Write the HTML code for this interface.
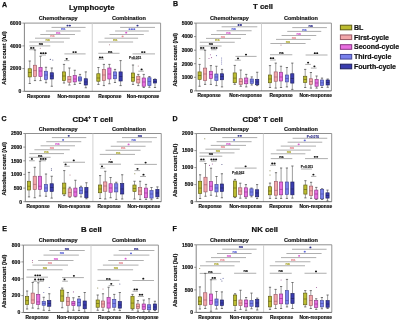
<!DOCTYPE html>
<html><head><meta charset="utf-8"><style>
html,body{margin:0;padding:0;background:#fff;}
svg{display:block;font-family:"Liberation Sans", sans-serif;will-change:transform;filter:blur(0.25px);}
</style></head><body>
<svg width="400" height="321" viewBox="0 0 400 321">
<rect width="400" height="321" fill="#fff"/>
<text x="1.9" y="6.75" font-size="7.0" text-anchor="start" fill="#111" font-weight="bold" stroke="#111" stroke-width="0.25">A</text>
<text x="91.7" y="9.7" font-size="7.8" text-anchor="middle" fill="#111" font-weight="bold" stroke="#111" stroke-width="0.22">Lymphocyte</text>
<text x="58.2" y="20.3" font-size="5.55" text-anchor="middle" fill="#111" font-weight="bold" stroke="#111" stroke-width="0.16">Chemotherapy</text>
<text x="128.9" y="20.3" font-size="5.55" text-anchor="middle" fill="#111" font-weight="bold" stroke="#111" stroke-width="0.16">Combination</text>
<line x1="24.4" y1="23.1" x2="160.6" y2="23.1" stroke="#858585" stroke-width="0.9"/>
<line x1="160.6" y1="23.1" x2="160.6" y2="91.3" stroke="#8a8a8a" stroke-width="0.9"/>
<line x1="92.25" y1="23.1" x2="92.25" y2="91.3" stroke="#ccc" stroke-width="0.9"/>
<line x1="24.4" y1="23.1" x2="24.4" y2="91.3" stroke="#777" stroke-width="0.9"/>
<line x1="24.4" y1="91.3" x2="160.6" y2="91.3" stroke="#555" stroke-width="0.9"/>
<line x1="22.4" y1="23.1" x2="24.4" y2="23.1" stroke="#666" stroke-width="0.7"/>
<text x="21.2" y="24.950000000000003" font-size="5.0" text-anchor="end" fill="#111" font-weight="bold" stroke="#111" stroke-width="0.18">6000</text>
<line x1="22.4" y1="45.9" x2="24.4" y2="45.9" stroke="#666" stroke-width="0.7"/>
<text x="21.2" y="47.75" font-size="5.0" text-anchor="end" fill="#111" font-weight="bold" stroke="#111" stroke-width="0.18">4000</text>
<line x1="22.4" y1="68.6" x2="24.4" y2="68.6" stroke="#666" stroke-width="0.7"/>
<text x="21.2" y="70.44999999999999" font-size="5.0" text-anchor="end" fill="#111" font-weight="bold" stroke="#111" stroke-width="0.18">2000</text>
<line x1="22.4" y1="91.3" x2="24.4" y2="91.3" stroke="#666" stroke-width="0.7"/>
<text x="21.2" y="93.14999999999999" font-size="5.0" text-anchor="end" fill="#111" font-weight="bold" stroke="#111" stroke-width="0.18">0</text>
<text x="5.9" y="58" font-size="5.7" text-anchor="middle" fill="#111" font-weight="bold" stroke="#111" stroke-width="0.15" transform="rotate(-90 5.9 58)">Absolute count (/ul)</text>
<text x="38.7" y="97.6" font-size="4.85" text-anchor="middle" fill="#111" font-weight="bold" stroke="#111" stroke-width="0.2">Response</text>
<text x="73.75" y="97.6" font-size="4.85" text-anchor="middle" fill="#111" font-weight="bold" stroke="#111" stroke-width="0.2">Non-response</text>
<text x="109.8" y="97.6" font-size="4.85" text-anchor="middle" fill="#111" font-weight="bold" stroke="#111" stroke-width="0.2">Response</text>
<text x="143.0" y="97.6" font-size="4.85" text-anchor="middle" fill="#111" font-weight="bold" stroke="#111" stroke-width="0.2">Non-response</text>
<line x1="51.5" y1="27.4" x2="85.6" y2="27.4" stroke="#8c8c8c" stroke-width="0.7"/>
<ellipse cx="67.53" cy="25.60" rx="1.05" ry="0.9" fill="#2c2c88"/>
<ellipse cx="69.88" cy="25.60" rx="1.05" ry="0.9" fill="#2c2c88"/>
<line x1="45.9" y1="31" x2="80.6" y2="31" stroke="#8c8c8c" stroke-width="0.7"/>
<text x="63.1" y="30.23" font-size="3.8" text-anchor="middle" fill="#6068d8" font-weight="bold" stroke="#6068d8" stroke-width="0.18">ns</text>
<line x1="40.3" y1="34.5" x2="75" y2="34.5" stroke="#8c8c8c" stroke-width="0.7"/>
<text x="58.1" y="33.73" font-size="3.8" text-anchor="middle" fill="#d85cd0" font-weight="bold" stroke="#d85cd0" stroke-width="0.18">ns</text>
<line x1="35" y1="38.2" x2="69.8" y2="38.2" stroke="#8c8c8c" stroke-width="0.7"/>
<text x="52.4" y="37.43" font-size="3.8" text-anchor="middle" fill="#e8909a" font-weight="bold" stroke="#e8909a" stroke-width="0.18">ns</text>
<line x1="29.3" y1="42" x2="64" y2="42" stroke="#8c8c8c" stroke-width="0.7"/>
<text x="47.6" y="41.23" font-size="3.8" text-anchor="middle" fill="#b0ac38" font-weight="bold" stroke="#b0ac38" stroke-width="0.18">ns</text>
<line x1="29.3" y1="45.9" x2="50.3" y2="45.9" stroke="#8c8c8c" stroke-width="0.7"/>
<text x="40.9" y="45.13" font-size="3.8" text-anchor="middle" fill="#111" font-weight="bold" stroke="#111" stroke-width="0.18">ns</text>
<line x1="29.3" y1="49.7" x2="35" y2="49.7" stroke="#8c8c8c" stroke-width="0.7"/>
<ellipse cx="31.12" cy="47.90" rx="1.05" ry="0.9" fill="#111"/>
<ellipse cx="33.47" cy="47.90" rx="1.05" ry="0.9" fill="#111"/>
<line x1="40.5" y1="55" x2="46" y2="55" stroke="#8c8c8c" stroke-width="0.7"/>
<ellipse cx="40.95" cy="53.20" rx="1.05" ry="0.9" fill="#111"/>
<ellipse cx="43.30" cy="53.20" rx="1.05" ry="0.9" fill="#111"/>
<ellipse cx="45.65" cy="53.20" rx="1.05" ry="0.9" fill="#111"/>
<line x1="64.4" y1="53.9" x2="85.6" y2="53.9" stroke="#8c8c8c" stroke-width="0.7"/>
<ellipse cx="73.42" cy="52.10" rx="1.05" ry="0.9" fill="#111"/>
<ellipse cx="75.77" cy="52.10" rx="1.05" ry="0.9" fill="#111"/>
<line x1="64" y1="60.6" x2="69.4" y2="60.6" stroke="#8c8c8c" stroke-width="0.7"/>
<ellipse cx="66.70" cy="58.80" rx="1.05" ry="0.9" fill="#111"/>
<line x1="120.1" y1="27.4" x2="155" y2="27.4" stroke="#8c8c8c" stroke-width="0.7"/>
<ellipse cx="137.50" cy="25.60" rx="1.05" ry="0.9" fill="#2c2c88"/>
<line x1="115.1" y1="31" x2="148.8" y2="31" stroke="#8c8c8c" stroke-width="0.7"/>
<ellipse cx="129.55" cy="29.20" rx="1.05" ry="0.9" fill="#6068d8"/>
<ellipse cx="131.90" cy="29.20" rx="1.05" ry="0.9" fill="#6068d8"/>
<ellipse cx="134.25" cy="29.20" rx="1.05" ry="0.9" fill="#6068d8"/>
<line x1="109.5" y1="34.5" x2="143.8" y2="34.5" stroke="#8c8c8c" stroke-width="0.7"/>
<ellipse cx="126.20" cy="32.70" rx="1.05" ry="0.9" fill="#d85cd0"/>
<line x1="104.5" y1="38.2" x2="138.1" y2="38.2" stroke="#8c8c8c" stroke-width="0.7"/>
<ellipse cx="122.60" cy="36.40" rx="1.05" ry="0.9" fill="#e8909a"/>
<line x1="98.3" y1="42" x2="133.1" y2="42" stroke="#8c8c8c" stroke-width="0.7"/>
<text x="115.1" y="41.23" font-size="3.8" text-anchor="middle" fill="#b0ac38" font-weight="bold" stroke="#b0ac38" stroke-width="0.18">ns</text>
<line x1="98.3" y1="53.3" x2="119.5" y2="53.3" stroke="#8c8c8c" stroke-width="0.7"/>
<text x="110.1" y="52.53" font-size="3.8" text-anchor="middle" fill="#111" font-weight="bold" stroke="#111" stroke-width="0.18">ns</text>
<line x1="98.3" y1="59.2" x2="104" y2="59.2" stroke="#8c8c8c" stroke-width="0.7"/>
<ellipse cx="99.92" cy="57.40" rx="1.05" ry="0.9" fill="#111"/>
<ellipse cx="102.27" cy="57.40" rx="1.05" ry="0.9" fill="#111"/>
<line x1="132.5" y1="53.9" x2="155" y2="53.9" stroke="#8c8c8c" stroke-width="0.7"/>
<ellipse cx="142.12" cy="52.10" rx="1.05" ry="0.9" fill="#111"/>
<ellipse cx="144.47" cy="52.10" rx="1.05" ry="0.9" fill="#111"/>
<line x1="131.5" y1="59.2" x2="139" y2="59.2" stroke="#8c8c8c" stroke-width="0.7"/>
<text x="135.2" y="58.56" font-size="3.3" text-anchor="middle" fill="#111" font-weight="bold" stroke="#111" stroke-width="0.12">P=0.051</text>
<line x1="138.3" y1="71.2" x2="143.8" y2="71.2" stroke="#8c8c8c" stroke-width="0.7"/>
<ellipse cx="141.60" cy="69.40" rx="1.05" ry="0.9" fill="#111"/>
<line x1="29.75" y1="61" x2="29.75" y2="68.75" stroke="#747474" stroke-width="0.7"/>
<line x1="29.75" y1="76.9" x2="29.75" y2="83.5" stroke="#747474" stroke-width="0.7"/>
<line x1="28.65" y1="61" x2="30.85" y2="61" stroke="#555" stroke-width="0.8"/>
<line x1="28.65" y1="83.5" x2="30.85" y2="83.5" stroke="#555" stroke-width="0.8"/>
<rect x="28.15" y="68.75" width="3.2" height="8.150000000000006" fill="#bcbc30" stroke="#5e5c12" stroke-width="0.65"/>
<line x1="28.15" y1="72.5" x2="31.35" y2="72.5" stroke="#5e5c12" stroke-width="0.6"/>
<line x1="35" y1="50" x2="35" y2="65.25" stroke="#747474" stroke-width="0.7"/>
<line x1="35" y1="76.5" x2="35" y2="80.6" stroke="#747474" stroke-width="0.7"/>
<line x1="33.9" y1="50" x2="36.1" y2="50" stroke="#555" stroke-width="0.8"/>
<line x1="33.9" y1="80.6" x2="36.1" y2="80.6" stroke="#555" stroke-width="0.8"/>
<rect x="33.4" y="65.25" width="3.2" height="11.25" fill="#f2a6aa" stroke="#9a5a66" stroke-width="0.65"/>
<line x1="33.4" y1="70.6" x2="36.6" y2="70.6" stroke="#9a5a66" stroke-width="0.6"/>
<line x1="40.5" y1="56.25" x2="40.5" y2="67.5" stroke="#747474" stroke-width="0.7"/>
<line x1="40.5" y1="76.5" x2="40.5" y2="80.6" stroke="#747474" stroke-width="0.7"/>
<line x1="39.4" y1="56.25" x2="41.6" y2="56.25" stroke="#555" stroke-width="0.8"/>
<line x1="39.4" y1="80.6" x2="41.6" y2="80.6" stroke="#555" stroke-width="0.8"/>
<rect x="38.9" y="67.5" width="3.2" height="9.0" fill="#e86ee0" stroke="#8a3484" stroke-width="0.65"/>
<line x1="38.9" y1="71" x2="42.1" y2="71" stroke="#8a3484" stroke-width="0.6"/>
<line x1="46" y1="67.25" x2="46" y2="71.25" stroke="#747474" stroke-width="0.7"/>
<line x1="46" y1="79.4" x2="46" y2="82.75" stroke="#747474" stroke-width="0.7"/>
<line x1="44.9" y1="67.25" x2="47.1" y2="67.25" stroke="#555" stroke-width="0.8"/>
<line x1="44.9" y1="82.75" x2="47.1" y2="82.75" stroke="#555" stroke-width="0.8"/>
<rect x="44.4" y="71.25" width="3.2" height="8.150000000000006" fill="#7880ec" stroke="#44489a" stroke-width="0.65"/>
<line x1="44.4" y1="75" x2="47.6" y2="75" stroke="#44489a" stroke-width="0.6"/>
<line x1="51.8" y1="68" x2="51.8" y2="72.75" stroke="#747474" stroke-width="0.7"/>
<line x1="51.8" y1="79" x2="51.8" y2="86.25" stroke="#747474" stroke-width="0.7"/>
<line x1="50.699999999999996" y1="68" x2="52.9" y2="68" stroke="#555" stroke-width="0.8"/>
<line x1="50.699999999999996" y1="86.25" x2="52.9" y2="86.25" stroke="#555" stroke-width="0.8"/>
<rect x="50.199999999999996" y="72.75" width="3.2" height="6.25" fill="#3a3cae" stroke="#1e2060" stroke-width="0.65"/>
<line x1="50.199999999999996" y1="76" x2="53.4" y2="76" stroke="#1e2060" stroke-width="0.6"/>
<line x1="64" y1="64.4" x2="64" y2="71.9" stroke="#747474" stroke-width="0.7"/>
<line x1="64" y1="80.6" x2="64" y2="83" stroke="#747474" stroke-width="0.7"/>
<line x1="62.9" y1="64.4" x2="65.1" y2="64.4" stroke="#555" stroke-width="0.8"/>
<line x1="62.9" y1="83" x2="65.1" y2="83" stroke="#555" stroke-width="0.8"/>
<rect x="62.4" y="71.9" width="3.2" height="8.699999999999989" fill="#bcbc30" stroke="#5e5c12" stroke-width="0.65"/>
<line x1="62.4" y1="76" x2="65.6" y2="76" stroke="#5e5c12" stroke-width="0.6"/>
<line x1="69.4" y1="68" x2="69.4" y2="76.5" stroke="#747474" stroke-width="0.7"/>
<line x1="69.4" y1="82.25" x2="69.4" y2="85" stroke="#747474" stroke-width="0.7"/>
<line x1="68.30000000000001" y1="68" x2="70.5" y2="68" stroke="#555" stroke-width="0.8"/>
<line x1="68.30000000000001" y1="85" x2="70.5" y2="85" stroke="#555" stroke-width="0.8"/>
<rect x="67.80000000000001" y="76.5" width="3.2" height="5.75" fill="#f2a6aa" stroke="#9a5a66" stroke-width="0.65"/>
<line x1="67.80000000000001" y1="79.5" x2="71.0" y2="79.5" stroke="#9a5a66" stroke-width="0.6"/>
<line x1="74.75" y1="70.25" x2="74.75" y2="75.6" stroke="#747474" stroke-width="0.7"/>
<line x1="74.75" y1="81.9" x2="74.75" y2="84.4" stroke="#747474" stroke-width="0.7"/>
<line x1="73.65" y1="70.25" x2="75.85" y2="70.25" stroke="#555" stroke-width="0.8"/>
<line x1="73.65" y1="84.4" x2="75.85" y2="84.4" stroke="#555" stroke-width="0.8"/>
<rect x="73.15" y="75.6" width="3.2" height="6.300000000000011" fill="#e86ee0" stroke="#8a3484" stroke-width="0.65"/>
<line x1="73.15" y1="79" x2="76.35" y2="79" stroke="#8a3484" stroke-width="0.6"/>
<line x1="80" y1="74.4" x2="80" y2="76.9" stroke="#747474" stroke-width="0.7"/>
<line x1="80" y1="81" x2="80" y2="83.5" stroke="#747474" stroke-width="0.7"/>
<line x1="78.9" y1="74.4" x2="81.1" y2="74.4" stroke="#555" stroke-width="0.8"/>
<line x1="78.9" y1="83.5" x2="81.1" y2="83.5" stroke="#555" stroke-width="0.8"/>
<rect x="78.4" y="76.9" width="3.2" height="4.099999999999994" fill="#7880ec" stroke="#44489a" stroke-width="0.65"/>
<line x1="78.4" y1="79" x2="81.6" y2="79" stroke="#44489a" stroke-width="0.6"/>
<line x1="85.8" y1="71.9" x2="85.8" y2="78.75" stroke="#747474" stroke-width="0.7"/>
<line x1="85.8" y1="85" x2="85.8" y2="87.75" stroke="#747474" stroke-width="0.7"/>
<line x1="84.7" y1="71.9" x2="86.89999999999999" y2="71.9" stroke="#555" stroke-width="0.8"/>
<line x1="84.7" y1="87.75" x2="86.89999999999999" y2="87.75" stroke="#555" stroke-width="0.8"/>
<rect x="84.2" y="78.75" width="3.2" height="6.25" fill="#3a3cae" stroke="#1e2060" stroke-width="0.65"/>
<line x1="84.2" y1="82" x2="87.39999999999999" y2="82" stroke="#1e2060" stroke-width="0.6"/>
<line x1="98.4" y1="67.5" x2="98.4" y2="73.75" stroke="#747474" stroke-width="0.7"/>
<line x1="98.4" y1="81.25" x2="98.4" y2="84.4" stroke="#747474" stroke-width="0.7"/>
<line x1="97.30000000000001" y1="67.5" x2="99.5" y2="67.5" stroke="#555" stroke-width="0.8"/>
<line x1="97.30000000000001" y1="84.4" x2="99.5" y2="84.4" stroke="#555" stroke-width="0.8"/>
<rect x="96.80000000000001" y="73.75" width="3.2" height="7.5" fill="#bcbc30" stroke="#5e5c12" stroke-width="0.65"/>
<line x1="96.80000000000001" y1="78" x2="100.0" y2="78" stroke="#5e5c12" stroke-width="0.6"/>
<line x1="103.9" y1="64.4" x2="103.9" y2="69.4" stroke="#747474" stroke-width="0.7"/>
<line x1="103.9" y1="80.6" x2="103.9" y2="85.6" stroke="#747474" stroke-width="0.7"/>
<line x1="102.80000000000001" y1="64.4" x2="105.0" y2="64.4" stroke="#555" stroke-width="0.8"/>
<line x1="102.80000000000001" y1="85.6" x2="105.0" y2="85.6" stroke="#555" stroke-width="0.8"/>
<rect x="102.30000000000001" y="69.4" width="3.2" height="11.199999999999989" fill="#f2a6aa" stroke="#9a5a66" stroke-width="0.65"/>
<line x1="102.30000000000001" y1="75" x2="105.5" y2="75" stroke="#9a5a66" stroke-width="0.6"/>
<line x1="109.4" y1="64.4" x2="109.4" y2="68" stroke="#747474" stroke-width="0.7"/>
<line x1="109.4" y1="79" x2="109.4" y2="83.75" stroke="#747474" stroke-width="0.7"/>
<line x1="108.30000000000001" y1="64.4" x2="110.5" y2="64.4" stroke="#555" stroke-width="0.8"/>
<line x1="108.30000000000001" y1="83.75" x2="110.5" y2="83.75" stroke="#555" stroke-width="0.8"/>
<rect x="107.80000000000001" y="68" width="3.2" height="11" fill="#e86ee0" stroke="#8a3484" stroke-width="0.65"/>
<line x1="107.80000000000001" y1="74" x2="111.0" y2="74" stroke="#8a3484" stroke-width="0.6"/>
<line x1="115" y1="69.4" x2="115" y2="71.9" stroke="#747474" stroke-width="0.7"/>
<line x1="115" y1="78.75" x2="115" y2="82.5" stroke="#747474" stroke-width="0.7"/>
<line x1="113.9" y1="69.4" x2="116.1" y2="69.4" stroke="#555" stroke-width="0.8"/>
<line x1="113.9" y1="82.5" x2="116.1" y2="82.5" stroke="#555" stroke-width="0.8"/>
<rect x="113.4" y="71.9" width="3.2" height="6.849999999999994" fill="#7880ec" stroke="#44489a" stroke-width="0.65"/>
<line x1="113.4" y1="75.5" x2="116.6" y2="75.5" stroke="#44489a" stroke-width="0.6"/>
<line x1="120.6" y1="60.6" x2="120.6" y2="71.9" stroke="#747474" stroke-width="0.7"/>
<line x1="120.6" y1="81" x2="120.6" y2="85.6" stroke="#747474" stroke-width="0.7"/>
<line x1="119.5" y1="60.6" x2="121.69999999999999" y2="60.6" stroke="#555" stroke-width="0.8"/>
<line x1="119.5" y1="85.6" x2="121.69999999999999" y2="85.6" stroke="#555" stroke-width="0.8"/>
<rect x="119.0" y="71.9" width="3.2" height="9.099999999999994" fill="#3a3cae" stroke="#1e2060" stroke-width="0.65"/>
<line x1="119.0" y1="76.5" x2="122.19999999999999" y2="76.5" stroke="#1e2060" stroke-width="0.6"/>
<line x1="133" y1="65" x2="133" y2="73" stroke="#747474" stroke-width="0.7"/>
<line x1="133" y1="81.25" x2="133" y2="84.4" stroke="#747474" stroke-width="0.7"/>
<line x1="131.9" y1="65" x2="134.1" y2="65" stroke="#555" stroke-width="0.8"/>
<line x1="131.9" y1="84.4" x2="134.1" y2="84.4" stroke="#555" stroke-width="0.8"/>
<rect x="131.4" y="73" width="3.2" height="8.25" fill="#bcbc30" stroke="#5e5c12" stroke-width="0.65"/>
<line x1="131.4" y1="77.5" x2="134.6" y2="77.5" stroke="#5e5c12" stroke-width="0.6"/>
<line x1="138.3" y1="74.4" x2="138.3" y2="76.25" stroke="#747474" stroke-width="0.7"/>
<line x1="138.3" y1="83" x2="138.3" y2="85.6" stroke="#747474" stroke-width="0.7"/>
<line x1="137.20000000000002" y1="74.4" x2="139.4" y2="74.4" stroke="#555" stroke-width="0.8"/>
<line x1="137.20000000000002" y1="85.6" x2="139.4" y2="85.6" stroke="#555" stroke-width="0.8"/>
<rect x="136.70000000000002" y="76.25" width="3.2" height="6.75" fill="#f2a6aa" stroke="#9a5a66" stroke-width="0.65"/>
<line x1="136.70000000000002" y1="79.5" x2="139.9" y2="79.5" stroke="#9a5a66" stroke-width="0.6"/>
<line x1="143.75" y1="74.4" x2="143.75" y2="78" stroke="#747474" stroke-width="0.7"/>
<line x1="143.75" y1="86.25" x2="143.75" y2="87.5" stroke="#747474" stroke-width="0.7"/>
<line x1="142.65" y1="74.4" x2="144.85" y2="74.4" stroke="#555" stroke-width="0.8"/>
<line x1="142.65" y1="87.5" x2="144.85" y2="87.5" stroke="#555" stroke-width="0.8"/>
<rect x="142.15" y="78" width="3.2" height="8.25" fill="#e86ee0" stroke="#8a3484" stroke-width="0.65"/>
<line x1="142.15" y1="82" x2="145.35" y2="82" stroke="#8a3484" stroke-width="0.6"/>
<line x1="149.4" y1="76.5" x2="149.4" y2="77.75" stroke="#747474" stroke-width="0.7"/>
<line x1="149.4" y1="85.6" x2="149.4" y2="87.25" stroke="#747474" stroke-width="0.7"/>
<line x1="148.3" y1="76.5" x2="150.5" y2="76.5" stroke="#555" stroke-width="0.8"/>
<line x1="148.3" y1="87.25" x2="150.5" y2="87.25" stroke="#555" stroke-width="0.8"/>
<rect x="147.8" y="77.75" width="3.2" height="7.849999999999994" fill="#7880ec" stroke="#44489a" stroke-width="0.65"/>
<line x1="147.8" y1="81.5" x2="151.0" y2="81.5" stroke="#44489a" stroke-width="0.6"/>
<line x1="155" y1="79" x2="155" y2="79.4" stroke="#747474" stroke-width="0.7"/>
<line x1="155" y1="83" x2="155" y2="87.5" stroke="#747474" stroke-width="0.7"/>
<line x1="153.9" y1="79" x2="156.1" y2="79" stroke="#555" stroke-width="0.8"/>
<line x1="153.9" y1="87.5" x2="156.1" y2="87.5" stroke="#555" stroke-width="0.8"/>
<rect x="153.4" y="79.4" width="3.2" height="3.5999999999999943" fill="#3a3cae" stroke="#1e2060" stroke-width="0.65"/>
<line x1="153.4" y1="81.5" x2="156.6" y2="81.5" stroke="#1e2060" stroke-width="0.6"/>
<circle cx="50.3" cy="59.4" r="0.55" fill="#1e2060" fill-opacity="0.75"/>
<circle cx="52.8" cy="60" r="0.55" fill="#1e2060" fill-opacity="0.75"/>
<circle cx="40.3" cy="48.3" r="0.55" fill="#9a5a66" fill-opacity="0.75"/>
<circle cx="109.5" cy="44.8" r="0.55" fill="#9a5a66" fill-opacity="0.75"/>
<circle cx="138.3" cy="66" r="0.55" fill="#9a5a66" fill-opacity="0.75"/>
<text x="173.0" y="6.35" font-size="7.0" text-anchor="start" fill="#111" font-weight="bold" stroke="#111" stroke-width="0.25">B</text>
<text x="263" y="9.3" font-size="7.8" text-anchor="middle" fill="#111" font-weight="bold" stroke="#111" stroke-width="0.22">T cell</text>
<text x="229.45" y="20.3" font-size="5.55" text-anchor="middle" fill="#111" font-weight="bold" stroke="#111" stroke-width="0.16">Chemotherapy</text>
<text x="300.9" y="20.3" font-size="5.55" text-anchor="middle" fill="#111" font-weight="bold" stroke="#111" stroke-width="0.16">Combination</text>
<line x1="196" y1="23.1" x2="331.4" y2="23.1" stroke="#858585" stroke-width="0.9"/>
<line x1="331.4" y1="23.1" x2="331.4" y2="90.9" stroke="#8a8a8a" stroke-width="0.9"/>
<line x1="261.5" y1="23.1" x2="261.5" y2="90.9" stroke="#ccc" stroke-width="0.9"/>
<line x1="196" y1="23.1" x2="196" y2="90.9" stroke="#777" stroke-width="0.9"/>
<line x1="196" y1="90.9" x2="331.4" y2="90.9" stroke="#555" stroke-width="0.9"/>
<line x1="194" y1="23.1" x2="196" y2="23.1" stroke="#666" stroke-width="0.7"/>
<text x="192.8" y="24.950000000000003" font-size="5.0" text-anchor="end" fill="#111" font-weight="bold" stroke="#111" stroke-width="0.18">5000</text>
<line x1="194" y1="36.6" x2="196" y2="36.6" stroke="#666" stroke-width="0.7"/>
<text x="192.8" y="38.45" font-size="5.0" text-anchor="end" fill="#111" font-weight="bold" stroke="#111" stroke-width="0.18">4000</text>
<line x1="194" y1="50.2" x2="196" y2="50.2" stroke="#666" stroke-width="0.7"/>
<text x="192.8" y="52.050000000000004" font-size="5.0" text-anchor="end" fill="#111" font-weight="bold" stroke="#111" stroke-width="0.18">3000</text>
<line x1="194" y1="63.7" x2="196" y2="63.7" stroke="#666" stroke-width="0.7"/>
<text x="192.8" y="65.55" font-size="5.0" text-anchor="end" fill="#111" font-weight="bold" stroke="#111" stroke-width="0.18">2000</text>
<line x1="194" y1="77.3" x2="196" y2="77.3" stroke="#666" stroke-width="0.7"/>
<text x="192.8" y="79.14999999999999" font-size="5.0" text-anchor="end" fill="#111" font-weight="bold" stroke="#111" stroke-width="0.18">1000</text>
<line x1="194" y1="90.9" x2="196" y2="90.9" stroke="#666" stroke-width="0.7"/>
<text x="192.8" y="92.75" font-size="5.0" text-anchor="end" fill="#111" font-weight="bold" stroke="#111" stroke-width="0.18">0</text>
<text x="177.4" y="59.8" font-size="5.7" text-anchor="middle" fill="#111" font-weight="bold" stroke="#111" stroke-width="0.15" transform="rotate(-90 177.4 59.8)">Absolute count (/ul)</text>
<text x="209" y="97.2" font-size="4.85" text-anchor="middle" fill="#111" font-weight="bold" stroke="#111" stroke-width="0.2">Response</text>
<text x="245.6" y="97.2" font-size="4.85" text-anchor="middle" fill="#111" font-weight="bold" stroke="#111" stroke-width="0.2">Non-response</text>
<text x="281" y="97.2" font-size="4.85" text-anchor="middle" fill="#111" font-weight="bold" stroke="#111" stroke-width="0.2">Response</text>
<text x="315.7" y="97.2" font-size="4.85" text-anchor="middle" fill="#111" font-weight="bold" stroke="#111" stroke-width="0.2">Non-response</text>
<line x1="221.6" y1="26.8" x2="257.3" y2="26.8" stroke="#8c8c8c" stroke-width="0.7"/>
<ellipse cx="238.57" cy="25.00" rx="1.05" ry="0.9" fill="#2c2c88"/>
<ellipse cx="240.92" cy="25.00" rx="1.05" ry="0.9" fill="#2c2c88"/>
<line x1="216.6" y1="30.75" x2="251.6" y2="30.75" stroke="#8c8c8c" stroke-width="0.7"/>
<text x="233.75" y="29.98" font-size="3.8" text-anchor="middle" fill="#6068d8" font-weight="bold" stroke="#6068d8" stroke-width="0.18">ns</text>
<line x1="211" y1="34.5" x2="246" y2="34.5" stroke="#8c8c8c" stroke-width="0.7"/>
<text x="228.5" y="33.73" font-size="3.8" text-anchor="middle" fill="#d85cd0" font-weight="bold" stroke="#d85cd0" stroke-width="0.18">ns</text>
<line x1="206" y1="38.4" x2="241" y2="38.4" stroke="#8c8c8c" stroke-width="0.7"/>
<text x="222.9" y="37.63" font-size="3.8" text-anchor="middle" fill="#e8909a" font-weight="bold" stroke="#e8909a" stroke-width="0.18">ns</text>
<line x1="199.75" y1="42.25" x2="234.75" y2="42.25" stroke="#8c8c8c" stroke-width="0.7"/>
<text x="217.3" y="41.48" font-size="3.8" text-anchor="middle" fill="#b0ac38" font-weight="bold" stroke="#b0ac38" stroke-width="0.18">ns</text>
<line x1="199.75" y1="46" x2="221.6" y2="46" stroke="#8c8c8c" stroke-width="0.7"/>
<text x="211" y="45.23" font-size="3.8" text-anchor="middle" fill="#111" font-weight="bold" stroke="#111" stroke-width="0.18">ns</text>
<line x1="199.75" y1="49.75" x2="205.2" y2="49.75" stroke="#8c8c8c" stroke-width="0.7"/>
<ellipse cx="201.02" cy="47.95" rx="1.05" ry="0.9" fill="#111"/>
<ellipse cx="203.37" cy="47.95" rx="1.05" ry="0.9" fill="#111"/>
<line x1="211" y1="49.75" x2="216.6" y2="49.75" stroke="#8c8c8c" stroke-width="0.7"/>
<ellipse cx="211.75" cy="47.95" rx="1.05" ry="0.9" fill="#111"/>
<ellipse cx="214.10" cy="47.95" rx="1.05" ry="0.9" fill="#111"/>
<ellipse cx="216.45" cy="47.95" rx="1.05" ry="0.9" fill="#111"/>
<line x1="235.4" y1="56.4" x2="256.6" y2="56.4" stroke="#8c8c8c" stroke-width="0.7"/>
<ellipse cx="246.00" cy="54.60" rx="1.05" ry="0.9" fill="#111"/>
<line x1="234.75" y1="60.2" x2="240.75" y2="60.2" stroke="#8c8c8c" stroke-width="0.7"/>
<ellipse cx="238.00" cy="58.40" rx="1.05" ry="0.9" fill="#111"/>
<line x1="292.25" y1="27.6" x2="326.9" y2="27.6" stroke="#8c8c8c" stroke-width="0.7"/>
<text x="310.6" y="26.83" font-size="3.8" text-anchor="middle" fill="#2c2c88" font-weight="bold" stroke="#2c2c88" stroke-width="0.18">ns</text>
<line x1="287.25" y1="31.4" x2="321.25" y2="31.4" stroke="#8c8c8c" stroke-width="0.7"/>
<text x="304.4" y="30.63" font-size="3.8" text-anchor="middle" fill="#6068d8" font-weight="bold" stroke="#6068d8" stroke-width="0.18">ns</text>
<line x1="281.6" y1="35.5" x2="316.25" y2="35.5" stroke="#8c8c8c" stroke-width="0.7"/>
<text x="298.6" y="34.73" font-size="3.8" text-anchor="middle" fill="#d85cd0" font-weight="bold" stroke="#d85cd0" stroke-width="0.18">ns</text>
<line x1="276" y1="39.4" x2="310.6" y2="39.4" stroke="#8c8c8c" stroke-width="0.7"/>
<text x="294" y="38.63" font-size="3.8" text-anchor="middle" fill="#e8909a" font-weight="bold" stroke="#e8909a" stroke-width="0.18">ns</text>
<line x1="270.4" y1="43.5" x2="305.6" y2="43.5" stroke="#8c8c8c" stroke-width="0.7"/>
<text x="287.9" y="42.73" font-size="3.8" text-anchor="middle" fill="#b0ac38" font-weight="bold" stroke="#b0ac38" stroke-width="0.18">ns</text>
<line x1="270" y1="54.75" x2="292.3" y2="54.75" stroke="#8c8c8c" stroke-width="0.7"/>
<text x="281.5" y="53.98" font-size="3.8" text-anchor="middle" fill="#111" font-weight="bold" stroke="#111" stroke-width="0.18">ns</text>
<line x1="270" y1="60" x2="275.75" y2="60" stroke="#8c8c8c" stroke-width="0.7"/>
<ellipse cx="270.82" cy="58.20" rx="1.05" ry="0.9" fill="#111"/>
<ellipse cx="273.18" cy="58.20" rx="1.05" ry="0.9" fill="#111"/>
<line x1="305.6" y1="55" x2="327.5" y2="55" stroke="#8c8c8c" stroke-width="0.7"/>
<ellipse cx="314.82" cy="53.20" rx="1.05" ry="0.9" fill="#111"/>
<ellipse cx="317.18" cy="53.20" rx="1.05" ry="0.9" fill="#111"/>
<line x1="305.2" y1="64.4" x2="310.9" y2="64.4" stroke="#8c8c8c" stroke-width="0.7"/>
<ellipse cx="308.10" cy="62.60" rx="1.05" ry="0.9" fill="#111"/>
<line x1="310.9" y1="68.1" x2="316.6" y2="68.1" stroke="#8c8c8c" stroke-width="0.7"/>
<ellipse cx="314.40" cy="66.30" rx="1.05" ry="0.9" fill="#111"/>
<line x1="199.6" y1="64.4" x2="199.6" y2="71.9" stroke="#747474" stroke-width="0.7"/>
<line x1="199.6" y1="79.4" x2="199.6" y2="86.25" stroke="#747474" stroke-width="0.7"/>
<line x1="198.5" y1="64.4" x2="200.7" y2="64.4" stroke="#555" stroke-width="0.8"/>
<line x1="198.5" y1="86.25" x2="200.7" y2="86.25" stroke="#555" stroke-width="0.8"/>
<rect x="198.0" y="71.9" width="3.2" height="7.5" fill="#bcbc30" stroke="#5e5c12" stroke-width="0.65"/>
<line x1="198.0" y1="75.5" x2="201.2" y2="75.5" stroke="#5e5c12" stroke-width="0.6"/>
<line x1="205.1" y1="50.3" x2="205.1" y2="68.1" stroke="#747474" stroke-width="0.7"/>
<line x1="205.1" y1="80.6" x2="205.1" y2="84.4" stroke="#747474" stroke-width="0.7"/>
<line x1="204.0" y1="50.3" x2="206.2" y2="50.3" stroke="#555" stroke-width="0.8"/>
<line x1="204.0" y1="84.4" x2="206.2" y2="84.4" stroke="#555" stroke-width="0.8"/>
<rect x="203.5" y="68.1" width="3.2" height="12.5" fill="#f2a6aa" stroke="#9a5a66" stroke-width="0.65"/>
<line x1="203.5" y1="74" x2="206.7" y2="74" stroke="#9a5a66" stroke-width="0.6"/>
<line x1="210.9" y1="65.6" x2="210.9" y2="71.25" stroke="#747474" stroke-width="0.7"/>
<line x1="210.9" y1="78.5" x2="210.9" y2="84.4" stroke="#747474" stroke-width="0.7"/>
<line x1="209.8" y1="65.6" x2="212.0" y2="65.6" stroke="#555" stroke-width="0.8"/>
<line x1="209.8" y1="84.4" x2="212.0" y2="84.4" stroke="#555" stroke-width="0.8"/>
<rect x="209.3" y="71.25" width="3.2" height="7.25" fill="#e86ee0" stroke="#8a3484" stroke-width="0.65"/>
<line x1="209.3" y1="74.5" x2="212.5" y2="74.5" stroke="#8a3484" stroke-width="0.6"/>
<line x1="216.4" y1="66.25" x2="216.4" y2="74" stroke="#747474" stroke-width="0.7"/>
<line x1="216.4" y1="80.6" x2="216.4" y2="85.6" stroke="#747474" stroke-width="0.7"/>
<line x1="215.3" y1="66.25" x2="217.5" y2="66.25" stroke="#555" stroke-width="0.8"/>
<line x1="215.3" y1="85.6" x2="217.5" y2="85.6" stroke="#555" stroke-width="0.8"/>
<rect x="214.8" y="74" width="3.2" height="6.599999999999994" fill="#7880ec" stroke="#44489a" stroke-width="0.65"/>
<line x1="214.8" y1="77" x2="218.0" y2="77" stroke="#44489a" stroke-width="0.6"/>
<line x1="222" y1="69.4" x2="222" y2="73.75" stroke="#747474" stroke-width="0.7"/>
<line x1="222" y1="79.75" x2="222" y2="86.9" stroke="#747474" stroke-width="0.7"/>
<line x1="220.9" y1="69.4" x2="223.1" y2="69.4" stroke="#555" stroke-width="0.8"/>
<line x1="220.9" y1="86.9" x2="223.1" y2="86.9" stroke="#555" stroke-width="0.8"/>
<rect x="220.4" y="73.75" width="3.2" height="6.0" fill="#3a3cae" stroke="#1e2060" stroke-width="0.65"/>
<line x1="220.4" y1="76.5" x2="223.6" y2="76.5" stroke="#1e2060" stroke-width="0.6"/>
<line x1="234.75" y1="65.4" x2="234.75" y2="72.9" stroke="#747474" stroke-width="0.7"/>
<line x1="234.75" y1="82.7" x2="234.75" y2="84.3" stroke="#747474" stroke-width="0.7"/>
<line x1="233.65" y1="65.4" x2="235.85" y2="65.4" stroke="#555" stroke-width="0.8"/>
<line x1="233.65" y1="84.3" x2="235.85" y2="84.3" stroke="#555" stroke-width="0.8"/>
<rect x="233.15" y="72.9" width="3.2" height="9.799999999999997" fill="#bcbc30" stroke="#5e5c12" stroke-width="0.65"/>
<line x1="233.15" y1="78.1" x2="236.35" y2="78.1" stroke="#5e5c12" stroke-width="0.6"/>
<line x1="240.75" y1="70" x2="240.75" y2="78.75" stroke="#747474" stroke-width="0.7"/>
<line x1="240.75" y1="84.4" x2="240.75" y2="86.25" stroke="#747474" stroke-width="0.7"/>
<line x1="239.65" y1="70" x2="241.85" y2="70" stroke="#555" stroke-width="0.8"/>
<line x1="239.65" y1="86.25" x2="241.85" y2="86.25" stroke="#555" stroke-width="0.8"/>
<rect x="239.15" y="78.75" width="3.2" height="5.650000000000006" fill="#f2a6aa" stroke="#9a5a66" stroke-width="0.65"/>
<line x1="239.15" y1="81.5" x2="242.35" y2="81.5" stroke="#9a5a66" stroke-width="0.6"/>
<line x1="246.25" y1="74.4" x2="246.25" y2="78" stroke="#747474" stroke-width="0.7"/>
<line x1="246.25" y1="83.75" x2="246.25" y2="86.9" stroke="#747474" stroke-width="0.7"/>
<line x1="245.15" y1="74.4" x2="247.35" y2="74.4" stroke="#555" stroke-width="0.8"/>
<line x1="245.15" y1="86.9" x2="247.35" y2="86.9" stroke="#555" stroke-width="0.8"/>
<rect x="244.65" y="78" width="3.2" height="5.75" fill="#e86ee0" stroke="#8a3484" stroke-width="0.65"/>
<line x1="244.65" y1="81" x2="247.85" y2="81" stroke="#8a3484" stroke-width="0.6"/>
<line x1="251.75" y1="76.9" x2="251.75" y2="79" stroke="#747474" stroke-width="0.7"/>
<line x1="251.75" y1="83.5" x2="251.75" y2="85" stroke="#747474" stroke-width="0.7"/>
<line x1="250.65" y1="76.9" x2="252.85" y2="76.9" stroke="#555" stroke-width="0.8"/>
<line x1="250.65" y1="85" x2="252.85" y2="85" stroke="#555" stroke-width="0.8"/>
<rect x="250.15" y="79" width="3.2" height="4.5" fill="#7880ec" stroke="#44489a" stroke-width="0.65"/>
<line x1="250.15" y1="81.2" x2="253.35" y2="81.2" stroke="#44489a" stroke-width="0.6"/>
<line x1="257.2" y1="72.25" x2="257.2" y2="79.4" stroke="#747474" stroke-width="0.7"/>
<line x1="257.2" y1="84.75" x2="257.2" y2="85.6" stroke="#747474" stroke-width="0.7"/>
<line x1="256.09999999999997" y1="72.25" x2="258.3" y2="72.25" stroke="#555" stroke-width="0.8"/>
<line x1="256.09999999999997" y1="85.6" x2="258.3" y2="85.6" stroke="#555" stroke-width="0.8"/>
<rect x="255.6" y="79.4" width="3.2" height="5.349999999999994" fill="#3a3cae" stroke="#1e2060" stroke-width="0.65"/>
<line x1="255.6" y1="82" x2="258.8" y2="82" stroke="#1e2060" stroke-width="0.6"/>
<line x1="270" y1="65.6" x2="270" y2="75" stroke="#747474" stroke-width="0.7"/>
<line x1="270" y1="82.75" x2="270" y2="87.5" stroke="#747474" stroke-width="0.7"/>
<line x1="268.9" y1="65.6" x2="271.1" y2="65.6" stroke="#555" stroke-width="0.8"/>
<line x1="268.9" y1="87.5" x2="271.1" y2="87.5" stroke="#555" stroke-width="0.8"/>
<rect x="268.4" y="75" width="3.2" height="7.75" fill="#bcbc30" stroke="#5e5c12" stroke-width="0.65"/>
<line x1="268.4" y1="79" x2="271.6" y2="79" stroke="#5e5c12" stroke-width="0.6"/>
<line x1="275.75" y1="63.1" x2="275.75" y2="71.9" stroke="#747474" stroke-width="0.7"/>
<line x1="275.75" y1="81.25" x2="275.75" y2="88.1" stroke="#747474" stroke-width="0.7"/>
<line x1="274.65" y1="63.1" x2="276.85" y2="63.1" stroke="#555" stroke-width="0.8"/>
<line x1="274.65" y1="88.1" x2="276.85" y2="88.1" stroke="#555" stroke-width="0.8"/>
<rect x="274.15" y="71.9" width="3.2" height="9.349999999999994" fill="#f2a6aa" stroke="#9a5a66" stroke-width="0.65"/>
<line x1="274.15" y1="77" x2="277.35" y2="77" stroke="#9a5a66" stroke-width="0.6"/>
<line x1="281" y1="66.25" x2="281" y2="72.25" stroke="#747474" stroke-width="0.7"/>
<line x1="281" y1="81" x2="281" y2="87.5" stroke="#747474" stroke-width="0.7"/>
<line x1="279.9" y1="66.25" x2="282.1" y2="66.25" stroke="#555" stroke-width="0.8"/>
<line x1="279.9" y1="87.5" x2="282.1" y2="87.5" stroke="#555" stroke-width="0.8"/>
<rect x="279.4" y="72.25" width="3.2" height="8.75" fill="#e86ee0" stroke="#8a3484" stroke-width="0.65"/>
<line x1="279.4" y1="77" x2="282.6" y2="77" stroke="#8a3484" stroke-width="0.6"/>
<line x1="286.9" y1="67.5" x2="286.9" y2="75" stroke="#747474" stroke-width="0.7"/>
<line x1="286.9" y1="81.9" x2="286.9" y2="86.9" stroke="#747474" stroke-width="0.7"/>
<line x1="285.79999999999995" y1="67.5" x2="288.0" y2="67.5" stroke="#555" stroke-width="0.8"/>
<line x1="285.79999999999995" y1="86.9" x2="288.0" y2="86.9" stroke="#555" stroke-width="0.8"/>
<rect x="285.29999999999995" y="75" width="3.2" height="6.900000000000006" fill="#7880ec" stroke="#44489a" stroke-width="0.65"/>
<line x1="285.29999999999995" y1="78.5" x2="288.5" y2="78.5" stroke="#44489a" stroke-width="0.6"/>
<line x1="292.3" y1="63.1" x2="292.3" y2="73.75" stroke="#747474" stroke-width="0.7"/>
<line x1="292.3" y1="83.1" x2="292.3" y2="89.4" stroke="#747474" stroke-width="0.7"/>
<line x1="291.2" y1="63.1" x2="293.40000000000003" y2="63.1" stroke="#555" stroke-width="0.8"/>
<line x1="291.2" y1="89.4" x2="293.40000000000003" y2="89.4" stroke="#555" stroke-width="0.8"/>
<rect x="290.7" y="73.75" width="3.2" height="9.349999999999994" fill="#3a3cae" stroke="#1e2060" stroke-width="0.65"/>
<line x1="290.7" y1="78.5" x2="293.90000000000003" y2="78.5" stroke="#1e2060" stroke-width="0.6"/>
<line x1="305.2" y1="69.4" x2="305.2" y2="76.25" stroke="#747474" stroke-width="0.7"/>
<line x1="305.2" y1="82.5" x2="305.2" y2="87.5" stroke="#747474" stroke-width="0.7"/>
<line x1="304.09999999999997" y1="69.4" x2="306.3" y2="69.4" stroke="#555" stroke-width="0.8"/>
<line x1="304.09999999999997" y1="87.5" x2="306.3" y2="87.5" stroke="#555" stroke-width="0.8"/>
<rect x="303.59999999999997" y="76.25" width="3.2" height="6.25" fill="#bcbc30" stroke="#5e5c12" stroke-width="0.65"/>
<line x1="303.59999999999997" y1="79.5" x2="306.8" y2="79.5" stroke="#5e5c12" stroke-width="0.6"/>
<line x1="310.9" y1="72.5" x2="310.9" y2="78.75" stroke="#747474" stroke-width="0.7"/>
<line x1="310.9" y1="84.4" x2="310.9" y2="88.1" stroke="#747474" stroke-width="0.7"/>
<line x1="309.79999999999995" y1="72.5" x2="312.0" y2="72.5" stroke="#555" stroke-width="0.8"/>
<line x1="309.79999999999995" y1="88.1" x2="312.0" y2="88.1" stroke="#555" stroke-width="0.8"/>
<rect x="309.29999999999995" y="78.75" width="3.2" height="5.650000000000006" fill="#f2a6aa" stroke="#9a5a66" stroke-width="0.65"/>
<line x1="309.29999999999995" y1="81.5" x2="312.5" y2="81.5" stroke="#9a5a66" stroke-width="0.6"/>
<line x1="316.6" y1="76" x2="316.6" y2="79.4" stroke="#747474" stroke-width="0.7"/>
<line x1="316.6" y1="86.25" x2="316.6" y2="88.1" stroke="#747474" stroke-width="0.7"/>
<line x1="315.5" y1="76" x2="317.70000000000005" y2="76" stroke="#555" stroke-width="0.8"/>
<line x1="315.5" y1="88.1" x2="317.70000000000005" y2="88.1" stroke="#555" stroke-width="0.8"/>
<rect x="315.0" y="79.4" width="3.2" height="6.849999999999994" fill="#e86ee0" stroke="#8a3484" stroke-width="0.65"/>
<line x1="315.0" y1="83" x2="318.20000000000005" y2="83" stroke="#8a3484" stroke-width="0.6"/>
<line x1="322" y1="78.1" x2="322" y2="80" stroke="#747474" stroke-width="0.7"/>
<line x1="322" y1="85.6" x2="322" y2="87.5" stroke="#747474" stroke-width="0.7"/>
<line x1="320.9" y1="78.1" x2="323.1" y2="78.1" stroke="#555" stroke-width="0.8"/>
<line x1="320.9" y1="87.5" x2="323.1" y2="87.5" stroke="#555" stroke-width="0.8"/>
<rect x="320.4" y="80" width="3.2" height="5.599999999999994" fill="#7880ec" stroke="#44489a" stroke-width="0.65"/>
<line x1="320.4" y1="82.8" x2="323.6" y2="82.8" stroke="#44489a" stroke-width="0.6"/>
<line x1="327.7" y1="79" x2="327.7" y2="80" stroke="#747474" stroke-width="0.7"/>
<line x1="327.7" y1="85" x2="327.7" y2="87.25" stroke="#747474" stroke-width="0.7"/>
<line x1="326.59999999999997" y1="79" x2="328.8" y2="79" stroke="#555" stroke-width="0.8"/>
<line x1="326.59999999999997" y1="87.25" x2="328.8" y2="87.25" stroke="#555" stroke-width="0.8"/>
<rect x="326.09999999999997" y="80" width="3.2" height="5" fill="#3a3cae" stroke="#1e2060" stroke-width="0.65"/>
<line x1="326.09999999999997" y1="82.5" x2="329.3" y2="82.5" stroke="#1e2060" stroke-width="0.6"/>
<circle cx="199.75" cy="58.5" r="0.55" fill="#5e5c12" fill-opacity="0.75"/>
<circle cx="210.4" cy="54.75" r="0.55" fill="#8a3484" fill-opacity="0.75"/>
<circle cx="211.5" cy="57.6" r="0.55" fill="#8a3484" fill-opacity="0.75"/>
<circle cx="209" cy="58.5" r="0.55" fill="#8a3484" fill-opacity="0.75"/>
<circle cx="216.5" cy="55.6" r="0.55" fill="#44489a" fill-opacity="0.75"/>
<circle cx="221.6" cy="58" r="0.55" fill="#44489a" fill-opacity="0.75"/>
<circle cx="221.6" cy="60" r="0.55" fill="#44489a" fill-opacity="0.75"/>
<circle cx="221.6" cy="62" r="0.55" fill="#44489a" fill-opacity="0.75"/>
<circle cx="221.6" cy="64" r="0.55" fill="#44489a" fill-opacity="0.75"/>
<circle cx="281" cy="45.1" r="0.55" fill="#9a5a66" fill-opacity="0.75"/>
<text x="1.5" y="120.6" font-size="7.0" text-anchor="start" fill="#111" font-weight="bold" stroke="#111" stroke-width="0.25">C</text>
<text x="92.75" y="122.0" font-size="7.8" text-anchor="middle" fill="#111" font-weight="bold" stroke="#111" stroke-width="0.22">CD4<tspan font-size="4.6" dy="-2.6">+</tspan><tspan dy="2.6"> T cell</tspan></text>
<text x="58.2" y="130.7" font-size="5.55" text-anchor="middle" fill="#111" font-weight="bold" stroke="#111" stroke-width="0.16">Chemotherapy</text>
<text x="128.9" y="130.7" font-size="5.55" text-anchor="middle" fill="#111" font-weight="bold" stroke="#111" stroke-width="0.16">Combination</text>
<line x1="25.3" y1="133.5" x2="161.25" y2="133.5" stroke="#858585" stroke-width="0.9"/>
<line x1="161.25" y1="133.5" x2="161.25" y2="201.7" stroke="#8a8a8a" stroke-width="0.9"/>
<line x1="92.9" y1="133.5" x2="92.9" y2="201.7" stroke="#ccc" stroke-width="0.9"/>
<line x1="25.3" y1="133.5" x2="25.3" y2="201.7" stroke="#777" stroke-width="0.9"/>
<line x1="25.3" y1="201.7" x2="161.25" y2="201.7" stroke="#555" stroke-width="0.9"/>
<line x1="23.3" y1="133.5" x2="25.3" y2="133.5" stroke="#666" stroke-width="0.7"/>
<text x="22.1" y="135.35" font-size="5.0" text-anchor="end" fill="#111" font-weight="bold" stroke="#111" stroke-width="0.18">2500</text>
<line x1="23.3" y1="147.1" x2="25.3" y2="147.1" stroke="#666" stroke-width="0.7"/>
<text x="22.1" y="148.95" font-size="5.0" text-anchor="end" fill="#111" font-weight="bold" stroke="#111" stroke-width="0.18">2000</text>
<line x1="23.3" y1="160.8" x2="25.3" y2="160.8" stroke="#666" stroke-width="0.7"/>
<text x="22.1" y="162.65" font-size="5.0" text-anchor="end" fill="#111" font-weight="bold" stroke="#111" stroke-width="0.18">1500</text>
<line x1="23.3" y1="174.4" x2="25.3" y2="174.4" stroke="#666" stroke-width="0.7"/>
<text x="22.1" y="176.25" font-size="5.0" text-anchor="end" fill="#111" font-weight="bold" stroke="#111" stroke-width="0.18">1000</text>
<line x1="23.3" y1="188.1" x2="25.3" y2="188.1" stroke="#666" stroke-width="0.7"/>
<text x="22.1" y="189.95" font-size="5.0" text-anchor="end" fill="#111" font-weight="bold" stroke="#111" stroke-width="0.18">500</text>
<line x1="23.3" y1="201.7" x2="25.3" y2="201.7" stroke="#666" stroke-width="0.7"/>
<text x="22.1" y="203.54999999999998" font-size="5.0" text-anchor="end" fill="#111" font-weight="bold" stroke="#111" stroke-width="0.18">0</text>
<text x="5.9" y="168.9" font-size="5.7" text-anchor="middle" fill="#111" font-weight="bold" stroke="#111" stroke-width="0.15" transform="rotate(-90 5.9 168.9)">Absolute count (/ul)</text>
<text x="38" y="208.0" font-size="4.85" text-anchor="middle" fill="#111" font-weight="bold" stroke="#111" stroke-width="0.2">Response</text>
<text x="74.25" y="208.0" font-size="4.85" text-anchor="middle" fill="#111" font-weight="bold" stroke="#111" stroke-width="0.2">Non-response</text>
<text x="109.2" y="208.0" font-size="4.85" text-anchor="middle" fill="#111" font-weight="bold" stroke="#111" stroke-width="0.2">Response</text>
<text x="143.9" y="208.0" font-size="4.85" text-anchor="middle" fill="#111" font-weight="bold" stroke="#111" stroke-width="0.2">Non-response</text>
<line x1="51.9" y1="137.6" x2="86.25" y2="137.6" stroke="#8c8c8c" stroke-width="0.7"/>
<ellipse cx="68.75" cy="135.80" rx="1.05" ry="0.9" fill="#2c2c88"/>
<line x1="46.25" y1="141.7" x2="81.25" y2="141.7" stroke="#8c8c8c" stroke-width="0.7"/>
<ellipse cx="63.10" cy="139.90" rx="1.05" ry="0.9" fill="#6068d8"/>
<line x1="40.6" y1="145.8" x2="75" y2="145.8" stroke="#8c8c8c" stroke-width="0.7"/>
<text x="57.5" y="145.03" font-size="3.8" text-anchor="middle" fill="#d85cd0" font-weight="bold" stroke="#d85cd0" stroke-width="0.18">ns</text>
<line x1="34.4" y1="149.75" x2="69.75" y2="149.75" stroke="#8c8c8c" stroke-width="0.7"/>
<text x="52" y="148.98" font-size="3.8" text-anchor="middle" fill="#e8909a" font-weight="bold" stroke="#e8909a" stroke-width="0.18">ns</text>
<line x1="29.4" y1="153.6" x2="64" y2="153.6" stroke="#8c8c8c" stroke-width="0.7"/>
<text x="46.5" y="152.83" font-size="3.8" text-anchor="middle" fill="#b0ac38" font-weight="bold" stroke="#b0ac38" stroke-width="0.18">ns</text>
<line x1="28.9" y1="157.3" x2="50.6" y2="157.3" stroke="#8c8c8c" stroke-width="0.7"/>
<text x="40.2" y="156.53" font-size="3.8" text-anchor="middle" fill="#111" font-weight="bold" stroke="#111" stroke-width="0.18">ns</text>
<line x1="29" y1="160.75" x2="34.75" y2="160.75" stroke="#8c8c8c" stroke-width="0.7"/>
<ellipse cx="31.90" cy="158.95" rx="1.05" ry="0.9" fill="#111"/>
<line x1="40" y1="160.75" x2="46" y2="160.75" stroke="#8c8c8c" stroke-width="0.7"/>
<ellipse cx="40.85" cy="158.95" rx="1.05" ry="0.9" fill="#111"/>
<ellipse cx="43.20" cy="158.95" rx="1.05" ry="0.9" fill="#111"/>
<ellipse cx="45.55" cy="158.95" rx="1.05" ry="0.9" fill="#111"/>
<line x1="63.1" y1="162.25" x2="85" y2="162.25" stroke="#8c8c8c" stroke-width="0.7"/>
<ellipse cx="73.75" cy="160.45" rx="1.05" ry="0.9" fill="#111"/>
<line x1="64.25" y1="166.25" x2="69.75" y2="166.25" stroke="#8c8c8c" stroke-width="0.7"/>
<ellipse cx="65.60" cy="164.45" rx="1.05" ry="0.9" fill="#111"/>
<line x1="122" y1="137.6" x2="156.9" y2="137.6" stroke="#8c8c8c" stroke-width="0.7"/>
<text x="140" y="136.83" font-size="3.8" text-anchor="middle" fill="#2c2c88" font-weight="bold" stroke="#2c2c88" stroke-width="0.18">ns</text>
<line x1="116.75" y1="141.9" x2="151.9" y2="141.9" stroke="#8c8c8c" stroke-width="0.7"/>
<text x="133.75" y="141.13" font-size="3.8" text-anchor="middle" fill="#6068d8" font-weight="bold" stroke="#6068d8" stroke-width="0.18">ns</text>
<line x1="110.75" y1="146.25" x2="145.6" y2="146.25" stroke="#8c8c8c" stroke-width="0.7"/>
<ellipse cx="128.60" cy="144.45" rx="1.05" ry="0.9" fill="#d85cd0"/>
<line x1="105.5" y1="150.25" x2="140.6" y2="150.25" stroke="#8c8c8c" stroke-width="0.7"/>
<text x="123.25" y="149.48" font-size="3.8" text-anchor="middle" fill="#e8909a" font-weight="bold" stroke="#e8909a" stroke-width="0.18">ns</text>
<line x1="99.75" y1="154.4" x2="135" y2="154.4" stroke="#8c8c8c" stroke-width="0.7"/>
<text x="118.25" y="153.63" font-size="3.8" text-anchor="middle" fill="#b0ac38" font-weight="bold" stroke="#b0ac38" stroke-width="0.18">ns</text>
<line x1="99.5" y1="164.2" x2="121" y2="164.2" stroke="#8c8c8c" stroke-width="0.7"/>
<text x="110.75" y="163.43" font-size="3.8" text-anchor="middle" fill="#111" font-weight="bold" stroke="#111" stroke-width="0.18">ns</text>
<line x1="100.1" y1="168.1" x2="105.25" y2="168.1" stroke="#8c8c8c" stroke-width="0.7"/>
<ellipse cx="102.00" cy="166.30" rx="1.05" ry="0.9" fill="#111"/>
<line x1="134.4" y1="164.4" x2="156.9" y2="164.4" stroke="#8c8c8c" stroke-width="0.7"/>
<ellipse cx="145.60" cy="162.60" rx="1.05" ry="0.9" fill="#111"/>
<line x1="134.5" y1="170.6" x2="140.1" y2="170.6" stroke="#8c8c8c" stroke-width="0.7"/>
<ellipse cx="137.50" cy="168.80" rx="1.05" ry="0.9" fill="#111"/>
<line x1="140.1" y1="176.5" x2="146" y2="176.5" stroke="#8c8c8c" stroke-width="0.7"/>
<ellipse cx="143.50" cy="174.70" rx="1.05" ry="0.9" fill="#111"/>
<line x1="29" y1="172.4" x2="29" y2="181.25" stroke="#747474" stroke-width="0.7"/>
<line x1="29" y1="190" x2="29" y2="196.9" stroke="#747474" stroke-width="0.7"/>
<line x1="27.9" y1="172.4" x2="30.1" y2="172.4" stroke="#555" stroke-width="0.8"/>
<line x1="27.9" y1="196.9" x2="30.1" y2="196.9" stroke="#555" stroke-width="0.8"/>
<rect x="27.4" y="181.25" width="3.2" height="8.75" fill="#bcbc30" stroke="#5e5c12" stroke-width="0.65"/>
<line x1="27.4" y1="186.25" x2="30.6" y2="186.25" stroke="#5e5c12" stroke-width="0.6"/>
<line x1="34.75" y1="167.3" x2="34.75" y2="176.25" stroke="#747474" stroke-width="0.7"/>
<line x1="34.75" y1="189.4" x2="34.75" y2="197.75" stroke="#747474" stroke-width="0.7"/>
<line x1="33.65" y1="167.3" x2="35.85" y2="167.3" stroke="#555" stroke-width="0.8"/>
<line x1="33.65" y1="197.75" x2="35.85" y2="197.75" stroke="#555" stroke-width="0.8"/>
<rect x="33.15" y="176.25" width="3.2" height="13.150000000000006" fill="#f2a6aa" stroke="#9a5a66" stroke-width="0.65"/>
<line x1="33.15" y1="184.4" x2="36.35" y2="184.4" stroke="#9a5a66" stroke-width="0.6"/>
<line x1="40" y1="161.2" x2="40" y2="176.25" stroke="#747474" stroke-width="0.7"/>
<line x1="40" y1="189.4" x2="40" y2="196" stroke="#747474" stroke-width="0.7"/>
<line x1="38.9" y1="161.2" x2="41.1" y2="161.2" stroke="#555" stroke-width="0.8"/>
<line x1="38.9" y1="196" x2="41.1" y2="196" stroke="#555" stroke-width="0.8"/>
<rect x="38.4" y="176.25" width="3.2" height="13.150000000000006" fill="#e86ee0" stroke="#8a3484" stroke-width="0.65"/>
<line x1="38.4" y1="186.25" x2="41.6" y2="186.25" stroke="#8a3484" stroke-width="0.6"/>
<line x1="46" y1="174" x2="46" y2="184.4" stroke="#747474" stroke-width="0.7"/>
<line x1="46" y1="191.5" x2="46" y2="196.25" stroke="#747474" stroke-width="0.7"/>
<line x1="44.9" y1="174" x2="47.1" y2="174" stroke="#555" stroke-width="0.8"/>
<line x1="44.9" y1="196.25" x2="47.1" y2="196.25" stroke="#555" stroke-width="0.8"/>
<rect x="44.4" y="184.4" width="3.2" height="7.099999999999994" fill="#7880ec" stroke="#44489a" stroke-width="0.65"/>
<line x1="44.4" y1="188" x2="47.6" y2="188" stroke="#44489a" stroke-width="0.6"/>
<line x1="51.7" y1="176.25" x2="51.7" y2="183.75" stroke="#747474" stroke-width="0.7"/>
<line x1="51.7" y1="191.5" x2="51.7" y2="198.1" stroke="#747474" stroke-width="0.7"/>
<line x1="50.6" y1="176.25" x2="52.800000000000004" y2="176.25" stroke="#555" stroke-width="0.8"/>
<line x1="50.6" y1="198.1" x2="52.800000000000004" y2="198.1" stroke="#555" stroke-width="0.8"/>
<rect x="50.1" y="183.75" width="3.2" height="7.75" fill="#3a3cae" stroke="#1e2060" stroke-width="0.65"/>
<line x1="50.1" y1="187.5" x2="53.300000000000004" y2="187.5" stroke="#1e2060" stroke-width="0.6"/>
<line x1="64.25" y1="170.6" x2="64.25" y2="183.1" stroke="#747474" stroke-width="0.7"/>
<line x1="64.25" y1="194" x2="64.25" y2="195.6" stroke="#747474" stroke-width="0.7"/>
<line x1="63.15" y1="170.6" x2="65.35" y2="170.6" stroke="#555" stroke-width="0.8"/>
<line x1="63.15" y1="195.6" x2="65.35" y2="195.6" stroke="#555" stroke-width="0.8"/>
<rect x="62.65" y="183.1" width="3.2" height="10.900000000000006" fill="#bcbc30" stroke="#5e5c12" stroke-width="0.65"/>
<line x1="62.65" y1="188.1" x2="65.85" y2="188.1" stroke="#5e5c12" stroke-width="0.6"/>
<line x1="69.75" y1="187.25" x2="69.75" y2="188.75" stroke="#747474" stroke-width="0.7"/>
<line x1="69.75" y1="196.5" x2="69.75" y2="197.25" stroke="#747474" stroke-width="0.7"/>
<line x1="68.65" y1="187.25" x2="70.85" y2="187.25" stroke="#555" stroke-width="0.8"/>
<line x1="68.65" y1="197.25" x2="70.85" y2="197.25" stroke="#555" stroke-width="0.8"/>
<rect x="68.15" y="188.75" width="3.2" height="7.75" fill="#f2a6aa" stroke="#9a5a66" stroke-width="0.65"/>
<line x1="68.15" y1="192.5" x2="71.35" y2="192.5" stroke="#9a5a66" stroke-width="0.6"/>
<line x1="75.4" y1="180.25" x2="75.4" y2="188.1" stroke="#747474" stroke-width="0.7"/>
<line x1="75.4" y1="196.25" x2="75.4" y2="196.9" stroke="#747474" stroke-width="0.7"/>
<line x1="74.30000000000001" y1="180.25" x2="76.5" y2="180.25" stroke="#555" stroke-width="0.8"/>
<line x1="74.30000000000001" y1="196.9" x2="76.5" y2="196.9" stroke="#555" stroke-width="0.8"/>
<rect x="73.80000000000001" y="188.1" width="3.2" height="8.150000000000006" fill="#e86ee0" stroke="#8a3484" stroke-width="0.65"/>
<line x1="73.80000000000001" y1="192" x2="77.0" y2="192" stroke="#8a3484" stroke-width="0.6"/>
<line x1="81" y1="186.25" x2="81" y2="187.5" stroke="#747474" stroke-width="0.7"/>
<line x1="81" y1="193.75" x2="81" y2="196.9" stroke="#747474" stroke-width="0.7"/>
<line x1="79.9" y1="186.25" x2="82.1" y2="186.25" stroke="#555" stroke-width="0.8"/>
<line x1="79.9" y1="196.9" x2="82.1" y2="196.9" stroke="#555" stroke-width="0.8"/>
<rect x="79.4" y="187.5" width="3.2" height="6.25" fill="#7880ec" stroke="#44489a" stroke-width="0.65"/>
<line x1="79.4" y1="190.5" x2="82.6" y2="190.5" stroke="#44489a" stroke-width="0.6"/>
<line x1="86.4" y1="182.75" x2="86.4" y2="187.5" stroke="#747474" stroke-width="0.7"/>
<line x1="86.4" y1="197.75" x2="86.4" y2="198.75" stroke="#747474" stroke-width="0.7"/>
<line x1="85.30000000000001" y1="182.75" x2="87.5" y2="182.75" stroke="#555" stroke-width="0.8"/>
<line x1="85.30000000000001" y1="198.75" x2="87.5" y2="198.75" stroke="#555" stroke-width="0.8"/>
<rect x="84.80000000000001" y="187.5" width="3.2" height="10.25" fill="#3a3cae" stroke="#1e2060" stroke-width="0.65"/>
<line x1="84.80000000000001" y1="192" x2="88.0" y2="192" stroke="#1e2060" stroke-width="0.6"/>
<line x1="100.1" y1="175.6" x2="100.1" y2="185" stroke="#747474" stroke-width="0.7"/>
<line x1="100.1" y1="192.75" x2="100.1" y2="198.5" stroke="#747474" stroke-width="0.7"/>
<line x1="99.0" y1="175.6" x2="101.19999999999999" y2="175.6" stroke="#555" stroke-width="0.8"/>
<line x1="99.0" y1="198.5" x2="101.19999999999999" y2="198.5" stroke="#555" stroke-width="0.8"/>
<rect x="98.5" y="185" width="3.2" height="7.75" fill="#bcbc30" stroke="#5e5c12" stroke-width="0.65"/>
<line x1="98.5" y1="189" x2="101.69999999999999" y2="189" stroke="#5e5c12" stroke-width="0.6"/>
<line x1="105.25" y1="171.25" x2="105.25" y2="181.9" stroke="#747474" stroke-width="0.7"/>
<line x1="105.25" y1="191.25" x2="105.25" y2="199" stroke="#747474" stroke-width="0.7"/>
<line x1="104.15" y1="171.25" x2="106.35" y2="171.25" stroke="#555" stroke-width="0.8"/>
<line x1="104.15" y1="199" x2="106.35" y2="199" stroke="#555" stroke-width="0.8"/>
<rect x="103.65" y="181.9" width="3.2" height="9.349999999999994" fill="#f2a6aa" stroke="#9a5a66" stroke-width="0.65"/>
<line x1="103.65" y1="186" x2="106.85" y2="186" stroke="#9a5a66" stroke-width="0.6"/>
<line x1="110.6" y1="177.5" x2="110.6" y2="183.75" stroke="#747474" stroke-width="0.7"/>
<line x1="110.6" y1="192.25" x2="110.6" y2="197.75" stroke="#747474" stroke-width="0.7"/>
<line x1="109.5" y1="177.5" x2="111.69999999999999" y2="177.5" stroke="#555" stroke-width="0.8"/>
<line x1="109.5" y1="197.75" x2="111.69999999999999" y2="197.75" stroke="#555" stroke-width="0.8"/>
<rect x="109.0" y="183.75" width="3.2" height="8.5" fill="#e86ee0" stroke="#8a3484" stroke-width="0.65"/>
<line x1="109.0" y1="188" x2="112.19999999999999" y2="188" stroke="#8a3484" stroke-width="0.6"/>
<line x1="116.25" y1="182.25" x2="116.25" y2="183.75" stroke="#747474" stroke-width="0.7"/>
<line x1="116.25" y1="191.9" x2="116.25" y2="199.4" stroke="#747474" stroke-width="0.7"/>
<line x1="115.15" y1="182.25" x2="117.35" y2="182.25" stroke="#555" stroke-width="0.8"/>
<line x1="115.15" y1="199.4" x2="117.35" y2="199.4" stroke="#555" stroke-width="0.8"/>
<rect x="114.65" y="183.75" width="3.2" height="8.150000000000006" fill="#7880ec" stroke="#44489a" stroke-width="0.65"/>
<line x1="114.65" y1="188" x2="117.85" y2="188" stroke="#44489a" stroke-width="0.6"/>
<line x1="122.2" y1="174.75" x2="122.2" y2="183.5" stroke="#747474" stroke-width="0.7"/>
<line x1="122.2" y1="194" x2="122.2" y2="199" stroke="#747474" stroke-width="0.7"/>
<line x1="121.10000000000001" y1="174.75" x2="123.3" y2="174.75" stroke="#555" stroke-width="0.8"/>
<line x1="121.10000000000001" y1="199" x2="123.3" y2="199" stroke="#555" stroke-width="0.8"/>
<rect x="120.60000000000001" y="183.5" width="3.2" height="10.5" fill="#3a3cae" stroke="#1e2060" stroke-width="0.65"/>
<line x1="120.60000000000001" y1="189" x2="123.8" y2="189" stroke="#1e2060" stroke-width="0.6"/>
<line x1="134.5" y1="181.25" x2="134.5" y2="185" stroke="#747474" stroke-width="0.7"/>
<line x1="134.5" y1="191.5" x2="134.5" y2="199" stroke="#747474" stroke-width="0.7"/>
<line x1="133.4" y1="181.25" x2="135.6" y2="181.25" stroke="#555" stroke-width="0.8"/>
<line x1="133.4" y1="199" x2="135.6" y2="199" stroke="#555" stroke-width="0.8"/>
<rect x="132.9" y="185" width="3.2" height="6.5" fill="#bcbc30" stroke="#5e5c12" stroke-width="0.65"/>
<line x1="132.9" y1="188.5" x2="136.1" y2="188.5" stroke="#5e5c12" stroke-width="0.6"/>
<line x1="140.1" y1="181.25" x2="140.1" y2="187.5" stroke="#747474" stroke-width="0.7"/>
<line x1="140.1" y1="194.75" x2="140.1" y2="199.4" stroke="#747474" stroke-width="0.7"/>
<line x1="139.0" y1="181.25" x2="141.2" y2="181.25" stroke="#555" stroke-width="0.8"/>
<line x1="139.0" y1="199.4" x2="141.2" y2="199.4" stroke="#555" stroke-width="0.8"/>
<rect x="138.5" y="187.5" width="3.2" height="7.25" fill="#f2a6aa" stroke="#9a5a66" stroke-width="0.65"/>
<line x1="138.5" y1="191" x2="141.7" y2="191" stroke="#9a5a66" stroke-width="0.6"/>
<line x1="146" y1="184.4" x2="146" y2="188.1" stroke="#747474" stroke-width="0.7"/>
<line x1="146" y1="197.75" x2="146" y2="199.4" stroke="#747474" stroke-width="0.7"/>
<line x1="144.9" y1="184.4" x2="147.1" y2="184.4" stroke="#555" stroke-width="0.8"/>
<line x1="144.9" y1="199.4" x2="147.1" y2="199.4" stroke="#555" stroke-width="0.8"/>
<rect x="144.4" y="188.1" width="3.2" height="9.650000000000006" fill="#e86ee0" stroke="#8a3484" stroke-width="0.65"/>
<line x1="144.4" y1="193" x2="147.6" y2="193" stroke="#8a3484" stroke-width="0.6"/>
<line x1="151.5" y1="187.5" x2="151.5" y2="190.6" stroke="#747474" stroke-width="0.7"/>
<line x1="151.5" y1="198.1" x2="151.5" y2="199.75" stroke="#747474" stroke-width="0.7"/>
<line x1="150.4" y1="187.5" x2="152.6" y2="187.5" stroke="#555" stroke-width="0.8"/>
<line x1="150.4" y1="199.75" x2="152.6" y2="199.75" stroke="#555" stroke-width="0.8"/>
<rect x="149.9" y="190.6" width="3.2" height="7.5" fill="#7880ec" stroke="#44489a" stroke-width="0.65"/>
<line x1="149.9" y1="194" x2="153.1" y2="194" stroke="#44489a" stroke-width="0.6"/>
<line x1="157.4" y1="186.9" x2="157.4" y2="189.4" stroke="#747474" stroke-width="0.7"/>
<line x1="157.4" y1="196.9" x2="157.4" y2="198.5" stroke="#747474" stroke-width="0.7"/>
<line x1="156.3" y1="186.9" x2="158.5" y2="186.9" stroke="#555" stroke-width="0.8"/>
<line x1="156.3" y1="198.5" x2="158.5" y2="198.5" stroke="#555" stroke-width="0.8"/>
<rect x="155.8" y="189.4" width="3.2" height="7.5" fill="#3a3cae" stroke="#1e2060" stroke-width="0.65"/>
<line x1="155.8" y1="193" x2="159.0" y2="193" stroke="#1e2060" stroke-width="0.6"/>
<circle cx="51.4" cy="168.7" r="0.55" fill="#1e2060" fill-opacity="0.75"/>
<circle cx="51.4" cy="170.3" r="0.55" fill="#1e2060" fill-opacity="0.75"/>
<circle cx="70" cy="175" r="0.55" fill="#9a5a66" fill-opacity="0.75"/>
<circle cx="110.5" cy="159.4" r="0.55" fill="#9a5a66" fill-opacity="0.75"/>
<circle cx="134.75" cy="173.75" r="0.55" fill="#5e5c12" fill-opacity="0.75"/>
<text x="172.5" y="121.3" font-size="7.0" text-anchor="start" fill="#111" font-weight="bold" stroke="#111" stroke-width="0.25">D</text>
<text x="262.75" y="121.8" font-size="7.8" text-anchor="middle" fill="#111" font-weight="bold" stroke="#111" stroke-width="0.22">CD8<tspan font-size="4.6" dy="-2.6">+</tspan><tspan dy="2.6"> T cell</tspan></text>
<text x="229.45" y="130.7" font-size="5.55" text-anchor="middle" fill="#111" font-weight="bold" stroke="#111" stroke-width="0.16">Chemotherapy</text>
<text x="300.9" y="130.7" font-size="5.55" text-anchor="middle" fill="#111" font-weight="bold" stroke="#111" stroke-width="0.16">Combination</text>
<line x1="196.4" y1="133.5" x2="331.7" y2="133.5" stroke="#858585" stroke-width="0.9"/>
<line x1="331.7" y1="133.5" x2="331.7" y2="201.7" stroke="#8a8a8a" stroke-width="0.9"/>
<line x1="263.4" y1="133.5" x2="263.4" y2="201.7" stroke="#ccc" stroke-width="0.9"/>
<line x1="196.4" y1="133.5" x2="196.4" y2="201.7" stroke="#777" stroke-width="0.9"/>
<line x1="196.4" y1="201.7" x2="331.7" y2="201.7" stroke="#555" stroke-width="0.9"/>
<line x1="194.4" y1="133.6" x2="196.4" y2="133.6" stroke="#666" stroke-width="0.7"/>
<text x="193.20000000000002" y="135.45" font-size="5.0" text-anchor="end" fill="#111" font-weight="bold" stroke="#111" stroke-width="0.18">2000</text>
<line x1="194.4" y1="150.6" x2="196.4" y2="150.6" stroke="#666" stroke-width="0.7"/>
<text x="193.20000000000002" y="152.45" font-size="5.0" text-anchor="end" fill="#111" font-weight="bold" stroke="#111" stroke-width="0.18">1500</text>
<line x1="194.4" y1="167.6" x2="196.4" y2="167.6" stroke="#666" stroke-width="0.7"/>
<text x="193.20000000000002" y="169.45" font-size="5.0" text-anchor="end" fill="#111" font-weight="bold" stroke="#111" stroke-width="0.18">1000</text>
<line x1="194.4" y1="184.6" x2="196.4" y2="184.6" stroke="#666" stroke-width="0.7"/>
<text x="193.20000000000002" y="186.45" font-size="5.0" text-anchor="end" fill="#111" font-weight="bold" stroke="#111" stroke-width="0.18">500</text>
<line x1="194.4" y1="201.7" x2="196.4" y2="201.7" stroke="#666" stroke-width="0.7"/>
<text x="193.20000000000002" y="203.54999999999998" font-size="5.0" text-anchor="end" fill="#111" font-weight="bold" stroke="#111" stroke-width="0.18">0</text>
<text x="176.9" y="170.4" font-size="5.7" text-anchor="middle" fill="#111" font-weight="bold" stroke="#111" stroke-width="0.15" transform="rotate(-90 176.9 170.4)">Absolute count (/ul)</text>
<text x="210.2" y="208.0" font-size="4.85" text-anchor="middle" fill="#111" font-weight="bold" stroke="#111" stroke-width="0.2">Response</text>
<text x="245.75" y="208.0" font-size="4.85" text-anchor="middle" fill="#111" font-weight="bold" stroke="#111" stroke-width="0.2">Non-response</text>
<text x="280.75" y="208.0" font-size="4.85" text-anchor="middle" fill="#111" font-weight="bold" stroke="#111" stroke-width="0.2">Response</text>
<text x="315.9" y="208.0" font-size="4.85" text-anchor="middle" fill="#111" font-weight="bold" stroke="#111" stroke-width="0.2">Non-response</text>
<line x1="222.25" y1="137.6" x2="257.25" y2="137.6" stroke="#8c8c8c" stroke-width="0.7"/>
<ellipse cx="238.57" cy="135.80" rx="1.05" ry="0.9" fill="#2c2c88"/>
<ellipse cx="240.92" cy="135.80" rx="1.05" ry="0.9" fill="#2c2c88"/>
<line x1="216.6" y1="141.7" x2="251.6" y2="141.7" stroke="#8c8c8c" stroke-width="0.7"/>
<ellipse cx="234.10" cy="139.90" rx="1.05" ry="0.9" fill="#6068d8"/>
<line x1="210.75" y1="145.4" x2="246" y2="145.4" stroke="#8c8c8c" stroke-width="0.7"/>
<text x="228.5" y="144.63" font-size="3.8" text-anchor="middle" fill="#d85cd0" font-weight="bold" stroke="#d85cd0" stroke-width="0.18">ns</text>
<line x1="205.4" y1="149.2" x2="239.75" y2="149.2" stroke="#8c8c8c" stroke-width="0.7"/>
<text x="222.9" y="148.43" font-size="3.8" text-anchor="middle" fill="#e8909a" font-weight="bold" stroke="#e8909a" stroke-width="0.18">ns</text>
<line x1="199.5" y1="152.9" x2="234.5" y2="152.9" stroke="#8c8c8c" stroke-width="0.7"/>
<text x="217.9" y="152.13" font-size="3.8" text-anchor="middle" fill="#b0ac38" font-weight="bold" stroke="#b0ac38" stroke-width="0.18">ns</text>
<line x1="199.5" y1="156.2" x2="222.3" y2="156.2" stroke="#8c8c8c" stroke-width="0.7"/>
<text x="211" y="155.43" font-size="3.8" text-anchor="middle" fill="#111" font-weight="bold" stroke="#111" stroke-width="0.18">ns</text>
<line x1="199.5" y1="161.2" x2="205.5" y2="161.2" stroke="#8c8c8c" stroke-width="0.7"/>
<ellipse cx="201.22" cy="159.40" rx="1.05" ry="0.9" fill="#111"/>
<ellipse cx="203.57" cy="159.40" rx="1.05" ry="0.9" fill="#111"/>
<line x1="211" y1="161.2" x2="216.5" y2="161.2" stroke="#8c8c8c" stroke-width="0.7"/>
<ellipse cx="211.40" cy="159.40" rx="1.05" ry="0.9" fill="#111"/>
<ellipse cx="213.75" cy="159.40" rx="1.05" ry="0.9" fill="#111"/>
<ellipse cx="216.10" cy="159.40" rx="1.05" ry="0.9" fill="#111"/>
<line x1="234.75" y1="168.1" x2="256.6" y2="168.1" stroke="#8c8c8c" stroke-width="0.7"/>
<ellipse cx="245.60" cy="166.30" rx="1.05" ry="0.9" fill="#111"/>
<line x1="234" y1="174.5" x2="241.5" y2="174.5" stroke="#8c8c8c" stroke-width="0.7"/>
<text x="238.2" y="173.85" font-size="3.3" text-anchor="middle" fill="#111" font-weight="bold" stroke="#111" stroke-width="0.12">P=0.062</text>
<line x1="292.6" y1="138.25" x2="327.25" y2="138.25" stroke="#8c8c8c" stroke-width="0.7"/>
<text x="312.9" y="137.6" font-size="3.3" text-anchor="middle" fill="#2c2c88" font-weight="bold" stroke="#2c2c88" stroke-width="0.12">P=0.076</text>
<line x1="287.6" y1="142.2" x2="322.25" y2="142.2" stroke="#8c8c8c" stroke-width="0.7"/>
<ellipse cx="304.75" cy="140.40" rx="1.05" ry="0.9" fill="#6068d8"/>
<line x1="280.75" y1="146.1" x2="316" y2="146.1" stroke="#8c8c8c" stroke-width="0.7"/>
<ellipse cx="298.70" cy="144.30" rx="1.05" ry="0.9" fill="#d85cd0"/>
<line x1="276.4" y1="150.1" x2="310.75" y2="150.1" stroke="#8c8c8c" stroke-width="0.7"/>
<text x="292" y="149.33" font-size="3.8" text-anchor="middle" fill="#e8909a" font-weight="bold" stroke="#e8909a" stroke-width="0.18">ns</text>
<line x1="270.75" y1="153.8" x2="305.4" y2="153.8" stroke="#8c8c8c" stroke-width="0.7"/>
<text x="288.9" y="153.03" font-size="3.8" text-anchor="middle" fill="#b0ac38" font-weight="bold" stroke="#b0ac38" stroke-width="0.18">ns</text>
<line x1="270.75" y1="158.6" x2="292.3" y2="158.6" stroke="#8c8c8c" stroke-width="0.7"/>
<text x="281.4" y="157.83" font-size="3.8" text-anchor="middle" fill="#111" font-weight="bold" stroke="#111" stroke-width="0.18">ns</text>
<line x1="270" y1="165.3" x2="276" y2="165.3" stroke="#8c8c8c" stroke-width="0.7"/>
<ellipse cx="272.22" cy="163.50" rx="1.05" ry="0.9" fill="#111"/>
<ellipse cx="274.57" cy="163.50" rx="1.05" ry="0.9" fill="#111"/>
<line x1="305" y1="158.6" x2="327.9" y2="158.6" stroke="#8c8c8c" stroke-width="0.7"/>
<ellipse cx="314.82" cy="156.80" rx="1.05" ry="0.9" fill="#111"/>
<ellipse cx="317.18" cy="156.80" rx="1.05" ry="0.9" fill="#111"/>
<line x1="301" y1="169" x2="312" y2="169" stroke="#8c8c8c" stroke-width="0.7"/>
<text x="307" y="168.35" font-size="3.3" text-anchor="middle" fill="#111" font-weight="bold" stroke="#111" stroke-width="0.12">P=0.051</text>
<line x1="311.1" y1="176.4" x2="316.3" y2="176.4" stroke="#8c8c8c" stroke-width="0.7"/>
<ellipse cx="313.40" cy="174.60" rx="1.05" ry="0.9" fill="#111"/>
<line x1="200.1" y1="174.8" x2="200.1" y2="181.25" stroke="#747474" stroke-width="0.7"/>
<line x1="200.1" y1="193.5" x2="200.1" y2="198.5" stroke="#747474" stroke-width="0.7"/>
<line x1="199.0" y1="174.8" x2="201.2" y2="174.8" stroke="#555" stroke-width="0.8"/>
<line x1="199.0" y1="198.5" x2="201.2" y2="198.5" stroke="#555" stroke-width="0.8"/>
<rect x="198.5" y="181.25" width="3.2" height="12.25" fill="#bcbc30" stroke="#5e5c12" stroke-width="0.65"/>
<line x1="198.5" y1="188.1" x2="201.7" y2="188.1" stroke="#5e5c12" stroke-width="0.6"/>
<line x1="205.5" y1="163.5" x2="205.5" y2="177.25" stroke="#747474" stroke-width="0.7"/>
<line x1="205.5" y1="191.9" x2="205.5" y2="196.25" stroke="#747474" stroke-width="0.7"/>
<line x1="204.4" y1="163.5" x2="206.6" y2="163.5" stroke="#555" stroke-width="0.8"/>
<line x1="204.4" y1="196.25" x2="206.6" y2="196.25" stroke="#555" stroke-width="0.8"/>
<rect x="203.9" y="177.25" width="3.2" height="14.650000000000006" fill="#f2a6aa" stroke="#9a5a66" stroke-width="0.65"/>
<line x1="203.9" y1="184.75" x2="207.1" y2="184.75" stroke="#9a5a66" stroke-width="0.6"/>
<line x1="211" y1="168.2" x2="211" y2="181.5" stroke="#747474" stroke-width="0.7"/>
<line x1="211" y1="190.6" x2="211" y2="195.25" stroke="#747474" stroke-width="0.7"/>
<line x1="209.9" y1="168.2" x2="212.1" y2="168.2" stroke="#555" stroke-width="0.8"/>
<line x1="209.9" y1="195.25" x2="212.1" y2="195.25" stroke="#555" stroke-width="0.8"/>
<rect x="209.4" y="181.5" width="3.2" height="9.099999999999994" fill="#e86ee0" stroke="#8a3484" stroke-width="0.65"/>
<line x1="209.4" y1="186.25" x2="212.6" y2="186.25" stroke="#8a3484" stroke-width="0.6"/>
<line x1="216.5" y1="176.5" x2="216.5" y2="184.4" stroke="#747474" stroke-width="0.7"/>
<line x1="216.5" y1="191.9" x2="216.5" y2="196.25" stroke="#747474" stroke-width="0.7"/>
<line x1="215.4" y1="176.5" x2="217.6" y2="176.5" stroke="#555" stroke-width="0.8"/>
<line x1="215.4" y1="196.25" x2="217.6" y2="196.25" stroke="#555" stroke-width="0.8"/>
<rect x="214.9" y="184.4" width="3.2" height="7.5" fill="#7880ec" stroke="#44489a" stroke-width="0.65"/>
<line x1="214.9" y1="188" x2="218.1" y2="188" stroke="#44489a" stroke-width="0.6"/>
<line x1="221.9" y1="173.75" x2="221.9" y2="184" stroke="#747474" stroke-width="0.7"/>
<line x1="221.9" y1="191.5" x2="221.9" y2="197.75" stroke="#747474" stroke-width="0.7"/>
<line x1="220.8" y1="173.75" x2="223.0" y2="173.75" stroke="#555" stroke-width="0.8"/>
<line x1="220.8" y1="197.75" x2="223.0" y2="197.75" stroke="#555" stroke-width="0.8"/>
<rect x="220.3" y="184" width="3.2" height="7.5" fill="#3a3cae" stroke="#1e2060" stroke-width="0.65"/>
<line x1="220.3" y1="188" x2="223.5" y2="188" stroke="#1e2060" stroke-width="0.6"/>
<line x1="235" y1="179.4" x2="235" y2="181" stroke="#747474" stroke-width="0.7"/>
<line x1="235" y1="196.8" x2="235" y2="197.6" stroke="#747474" stroke-width="0.7"/>
<line x1="233.9" y1="179.4" x2="236.1" y2="179.4" stroke="#555" stroke-width="0.8"/>
<line x1="233.9" y1="197.6" x2="236.1" y2="197.6" stroke="#555" stroke-width="0.8"/>
<rect x="233.4" y="181" width="3.2" height="15.800000000000011" fill="#bcbc30" stroke="#5e5c12" stroke-width="0.65"/>
<line x1="233.4" y1="188" x2="236.6" y2="188" stroke="#5e5c12" stroke-width="0.6"/>
<line x1="240.25" y1="183.2" x2="240.25" y2="187.8" stroke="#747474" stroke-width="0.7"/>
<line x1="240.25" y1="194.4" x2="240.25" y2="198.2" stroke="#747474" stroke-width="0.7"/>
<line x1="239.15" y1="183.2" x2="241.35" y2="183.2" stroke="#555" stroke-width="0.8"/>
<line x1="239.15" y1="198.2" x2="241.35" y2="198.2" stroke="#555" stroke-width="0.8"/>
<rect x="238.65" y="187.8" width="3.2" height="6.599999999999994" fill="#f2a6aa" stroke="#9a5a66" stroke-width="0.65"/>
<line x1="238.65" y1="191" x2="241.85" y2="191" stroke="#9a5a66" stroke-width="0.6"/>
<line x1="245.9" y1="184.6" x2="245.9" y2="187.8" stroke="#747474" stroke-width="0.7"/>
<line x1="245.9" y1="196.8" x2="245.9" y2="198.2" stroke="#747474" stroke-width="0.7"/>
<line x1="244.8" y1="184.6" x2="247.0" y2="184.6" stroke="#555" stroke-width="0.8"/>
<line x1="244.8" y1="198.2" x2="247.0" y2="198.2" stroke="#555" stroke-width="0.8"/>
<rect x="244.3" y="187.8" width="3.2" height="9.0" fill="#e86ee0" stroke="#8a3484" stroke-width="0.65"/>
<line x1="244.3" y1="192" x2="247.5" y2="192" stroke="#8a3484" stroke-width="0.6"/>
<line x1="251.5" y1="188" x2="251.5" y2="188.8" stroke="#747474" stroke-width="0.7"/>
<line x1="251.5" y1="195.4" x2="251.5" y2="196.8" stroke="#747474" stroke-width="0.7"/>
<line x1="250.4" y1="188" x2="252.6" y2="188" stroke="#555" stroke-width="0.8"/>
<line x1="250.4" y1="196.8" x2="252.6" y2="196.8" stroke="#555" stroke-width="0.8"/>
<rect x="249.9" y="188.8" width="3.2" height="6.599999999999994" fill="#7880ec" stroke="#44489a" stroke-width="0.65"/>
<line x1="249.9" y1="192" x2="253.1" y2="192" stroke="#44489a" stroke-width="0.6"/>
<line x1="257.1" y1="184.6" x2="257.1" y2="189.75" stroke="#747474" stroke-width="0.7"/>
<line x1="257.1" y1="196.8" x2="257.1" y2="198.6" stroke="#747474" stroke-width="0.7"/>
<line x1="256.0" y1="184.6" x2="258.20000000000005" y2="184.6" stroke="#555" stroke-width="0.8"/>
<line x1="256.0" y1="198.6" x2="258.20000000000005" y2="198.6" stroke="#555" stroke-width="0.8"/>
<rect x="255.50000000000003" y="189.75" width="3.2" height="7.050000000000011" fill="#3a3cae" stroke="#1e2060" stroke-width="0.65"/>
<line x1="255.50000000000003" y1="193" x2="258.70000000000005" y2="193" stroke="#1e2060" stroke-width="0.6"/>
<line x1="270" y1="183.1" x2="270" y2="186.75" stroke="#747474" stroke-width="0.7"/>
<line x1="270" y1="194.8" x2="270" y2="198.4" stroke="#747474" stroke-width="0.7"/>
<line x1="268.9" y1="183.1" x2="271.1" y2="183.1" stroke="#555" stroke-width="0.8"/>
<line x1="268.9" y1="198.4" x2="271.1" y2="198.4" stroke="#555" stroke-width="0.8"/>
<rect x="268.4" y="186.75" width="3.2" height="8.050000000000011" fill="#bcbc30" stroke="#5e5c12" stroke-width="0.65"/>
<line x1="268.4" y1="191" x2="271.6" y2="191" stroke="#5e5c12" stroke-width="0.6"/>
<line x1="276" y1="172.7" x2="276" y2="181.4" stroke="#747474" stroke-width="0.7"/>
<line x1="276" y1="195.2" x2="276" y2="198.4" stroke="#747474" stroke-width="0.7"/>
<line x1="274.9" y1="172.7" x2="277.1" y2="172.7" stroke="#555" stroke-width="0.8"/>
<line x1="274.9" y1="198.4" x2="277.1" y2="198.4" stroke="#555" stroke-width="0.8"/>
<rect x="274.4" y="181.4" width="3.2" height="13.799999999999983" fill="#f2a6aa" stroke="#9a5a66" stroke-width="0.65"/>
<line x1="274.4" y1="190.4" x2="277.6" y2="190.4" stroke="#9a5a66" stroke-width="0.6"/>
<line x1="281.1" y1="168" x2="281.1" y2="182" stroke="#747474" stroke-width="0.7"/>
<line x1="281.1" y1="194.8" x2="281.1" y2="198.4" stroke="#747474" stroke-width="0.7"/>
<line x1="280.0" y1="168" x2="282.20000000000005" y2="168" stroke="#555" stroke-width="0.8"/>
<line x1="280.0" y1="198.4" x2="282.20000000000005" y2="198.4" stroke="#555" stroke-width="0.8"/>
<rect x="279.5" y="182" width="3.2" height="12.800000000000011" fill="#e86ee0" stroke="#8a3484" stroke-width="0.65"/>
<line x1="279.5" y1="189.4" x2="282.70000000000005" y2="189.4" stroke="#8a3484" stroke-width="0.6"/>
<line x1="286.9" y1="168" x2="286.9" y2="182" stroke="#747474" stroke-width="0.7"/>
<line x1="286.9" y1="194.4" x2="286.9" y2="198.4" stroke="#747474" stroke-width="0.7"/>
<line x1="285.79999999999995" y1="168" x2="288.0" y2="168" stroke="#555" stroke-width="0.8"/>
<line x1="285.79999999999995" y1="198.4" x2="288.0" y2="198.4" stroke="#555" stroke-width="0.8"/>
<rect x="285.29999999999995" y="182" width="3.2" height="12.400000000000006" fill="#7880ec" stroke="#44489a" stroke-width="0.65"/>
<line x1="285.29999999999995" y1="189" x2="288.5" y2="189" stroke="#44489a" stroke-width="0.6"/>
<line x1="292.4" y1="166" x2="292.4" y2="182" stroke="#747474" stroke-width="0.7"/>
<line x1="292.4" y1="194.8" x2="292.4" y2="198.1" stroke="#747474" stroke-width="0.7"/>
<line x1="291.29999999999995" y1="166" x2="293.5" y2="166" stroke="#555" stroke-width="0.8"/>
<line x1="291.29999999999995" y1="198.1" x2="293.5" y2="198.1" stroke="#555" stroke-width="0.8"/>
<rect x="290.79999999999995" y="182" width="3.2" height="12.800000000000011" fill="#3a3cae" stroke="#1e2060" stroke-width="0.65"/>
<line x1="290.79999999999995" y1="189" x2="294.0" y2="189" stroke="#1e2060" stroke-width="0.6"/>
<line x1="305.4" y1="180.7" x2="305.4" y2="185" stroke="#747474" stroke-width="0.7"/>
<line x1="305.4" y1="194.1" x2="305.4" y2="197.9" stroke="#747474" stroke-width="0.7"/>
<line x1="304.29999999999995" y1="180.7" x2="306.5" y2="180.7" stroke="#555" stroke-width="0.8"/>
<line x1="304.29999999999995" y1="197.9" x2="306.5" y2="197.9" stroke="#555" stroke-width="0.8"/>
<rect x="303.79999999999995" y="185" width="3.2" height="9.099999999999994" fill="#bcbc30" stroke="#5e5c12" stroke-width="0.65"/>
<line x1="303.79999999999995" y1="189.5" x2="307.0" y2="189.5" stroke="#5e5c12" stroke-width="0.6"/>
<line x1="311.1" y1="182.3" x2="311.1" y2="186.1" stroke="#747474" stroke-width="0.7"/>
<line x1="311.1" y1="195.4" x2="311.1" y2="198.4" stroke="#747474" stroke-width="0.7"/>
<line x1="310.0" y1="182.3" x2="312.20000000000005" y2="182.3" stroke="#555" stroke-width="0.8"/>
<line x1="310.0" y1="198.4" x2="312.20000000000005" y2="198.4" stroke="#555" stroke-width="0.8"/>
<rect x="309.5" y="186.1" width="3.2" height="9.300000000000011" fill="#f2a6aa" stroke="#9a5a66" stroke-width="0.65"/>
<line x1="309.5" y1="190.8" x2="312.70000000000005" y2="190.8" stroke="#9a5a66" stroke-width="0.6"/>
<line x1="316.3" y1="187.4" x2="316.3" y2="190.1" stroke="#747474" stroke-width="0.7"/>
<line x1="316.3" y1="198.8" x2="316.3" y2="199.5" stroke="#747474" stroke-width="0.7"/>
<line x1="315.2" y1="187.4" x2="317.40000000000003" y2="187.4" stroke="#555" stroke-width="0.8"/>
<line x1="315.2" y1="199.5" x2="317.40000000000003" y2="199.5" stroke="#555" stroke-width="0.8"/>
<rect x="314.7" y="190.1" width="3.2" height="8.700000000000017" fill="#e86ee0" stroke="#8a3484" stroke-width="0.65"/>
<line x1="314.7" y1="194" x2="317.90000000000003" y2="194" stroke="#8a3484" stroke-width="0.6"/>
<line x1="322.1" y1="188.75" x2="322.1" y2="189.4" stroke="#747474" stroke-width="0.7"/>
<line x1="322.1" y1="198.8" x2="322.1" y2="199.5" stroke="#747474" stroke-width="0.7"/>
<line x1="321.0" y1="188.75" x2="323.20000000000005" y2="188.75" stroke="#555" stroke-width="0.8"/>
<line x1="321.0" y1="199.5" x2="323.20000000000005" y2="199.5" stroke="#555" stroke-width="0.8"/>
<rect x="320.5" y="189.4" width="3.2" height="9.400000000000006" fill="#7880ec" stroke="#44489a" stroke-width="0.65"/>
<line x1="320.5" y1="194" x2="323.70000000000005" y2="194" stroke="#44489a" stroke-width="0.6"/>
<line x1="327.5" y1="190.1" x2="327.5" y2="192.8" stroke="#747474" stroke-width="0.7"/>
<line x1="327.5" y1="198.1" x2="327.5" y2="201" stroke="#747474" stroke-width="0.7"/>
<line x1="326.4" y1="190.1" x2="328.6" y2="190.1" stroke="#555" stroke-width="0.8"/>
<line x1="326.4" y1="201" x2="328.6" y2="201" stroke="#555" stroke-width="0.8"/>
<rect x="325.9" y="192.8" width="3.2" height="5.299999999999983" fill="#3a3cae" stroke="#1e2060" stroke-width="0.65"/>
<line x1="325.9" y1="195.5" x2="329.1" y2="195.5" stroke="#1e2060" stroke-width="0.6"/>
<circle cx="204.75" cy="138.75" r="0.55" fill="#5e5c12" fill-opacity="0.75"/>
<circle cx="209.5" cy="165.4" r="0.55" fill="#8a3484" fill-opacity="0.75"/>
<circle cx="212.4" cy="164" r="0.55" fill="#8a3484" fill-opacity="0.75"/>
<circle cx="221.9" cy="164.5" r="0.55" fill="#1e2060" fill-opacity="0.75"/>
<circle cx="270" cy="170.7" r="0.55" fill="#5e5c12" fill-opacity="0.75"/>
<circle cx="270" cy="175" r="0.55" fill="#5e5c12" fill-opacity="0.75"/>
<text x="2.2" y="231.3" font-size="7.0" text-anchor="start" fill="#111" font-weight="bold" stroke="#111" stroke-width="0.25">E</text>
<text x="91.4" y="232.1" font-size="7.8" text-anchor="middle" fill="#111" font-weight="bold" stroke="#111" stroke-width="0.22">B cell</text>
<text x="58.2" y="242.29999999999998" font-size="5.55" text-anchor="middle" fill="#111" font-weight="bold" stroke="#111" stroke-width="0.16">Chemotherapy</text>
<text x="128.9" y="242.29999999999998" font-size="5.55" text-anchor="middle" fill="#111" font-weight="bold" stroke="#111" stroke-width="0.16">Combination</text>
<line x1="23.4" y1="245.1" x2="158.4" y2="245.1" stroke="#858585" stroke-width="0.9"/>
<line x1="158.4" y1="245.1" x2="158.4" y2="312.5" stroke="#8a8a8a" stroke-width="0.9"/>
<line x1="91" y1="245.1" x2="91" y2="312.5" stroke="#ccc" stroke-width="0.9"/>
<line x1="23.4" y1="245.1" x2="23.4" y2="312.5" stroke="#777" stroke-width="0.9"/>
<line x1="23.4" y1="312.5" x2="158.4" y2="312.5" stroke="#555" stroke-width="0.9"/>
<line x1="21.4" y1="245.1" x2="23.4" y2="245.1" stroke="#666" stroke-width="0.7"/>
<text x="20.2" y="246.95" font-size="5.0" text-anchor="end" fill="#111" font-weight="bold" stroke="#111" stroke-width="0.18">800</text>
<line x1="21.4" y1="261.9" x2="23.4" y2="261.9" stroke="#666" stroke-width="0.7"/>
<text x="20.2" y="263.75" font-size="5.0" text-anchor="end" fill="#111" font-weight="bold" stroke="#111" stroke-width="0.18">600</text>
<line x1="21.4" y1="278.8" x2="23.4" y2="278.8" stroke="#666" stroke-width="0.7"/>
<text x="20.2" y="280.65000000000003" font-size="5.0" text-anchor="end" fill="#111" font-weight="bold" stroke="#111" stroke-width="0.18">400</text>
<line x1="21.4" y1="295.6" x2="23.4" y2="295.6" stroke="#666" stroke-width="0.7"/>
<text x="20.2" y="297.45000000000005" font-size="5.0" text-anchor="end" fill="#111" font-weight="bold" stroke="#111" stroke-width="0.18">200</text>
<line x1="21.4" y1="312.5" x2="23.4" y2="312.5" stroke="#666" stroke-width="0.7"/>
<text x="20.2" y="314.35" font-size="5.0" text-anchor="end" fill="#111" font-weight="bold" stroke="#111" stroke-width="0.18">0</text>
<text x="5.9" y="281.3" font-size="5.7" text-anchor="middle" fill="#111" font-weight="bold" stroke="#111" stroke-width="0.15" transform="rotate(-90 5.9 281.3)">Absolute count (/ul)</text>
<text x="37.2" y="318.8" font-size="4.85" text-anchor="middle" fill="#111" font-weight="bold" stroke="#111" stroke-width="0.2">Response</text>
<text x="73" y="318.8" font-size="4.85" text-anchor="middle" fill="#111" font-weight="bold" stroke="#111" stroke-width="0.2">Non-response</text>
<text x="109.7" y="318.8" font-size="4.85" text-anchor="middle" fill="#111" font-weight="bold" stroke="#111" stroke-width="0.2">Response</text>
<text x="142.3" y="318.8" font-size="4.85" text-anchor="middle" fill="#111" font-weight="bold" stroke="#111" stroke-width="0.2">Non-response</text>
<line x1="49.4" y1="250.5" x2="84.75" y2="250.5" stroke="#8c8c8c" stroke-width="0.7"/>
<text x="67" y="249.73" font-size="3.8" text-anchor="middle" fill="#2c2c88" font-weight="bold" stroke="#2c2c88" stroke-width="0.18">ns</text>
<line x1="43.5" y1="255.1" x2="78.9" y2="255.1" stroke="#8c8c8c" stroke-width="0.7"/>
<text x="62" y="254.33" font-size="3.8" text-anchor="middle" fill="#6068d8" font-weight="bold" stroke="#6068d8" stroke-width="0.18">ns</text>
<line x1="38.1" y1="260.5" x2="73.5" y2="260.5" stroke="#8c8c8c" stroke-width="0.7"/>
<text x="55.9" y="259.73" font-size="3.8" text-anchor="middle" fill="#d85cd0" font-weight="bold" stroke="#d85cd0" stroke-width="0.18">ns</text>
<line x1="32.5" y1="265.1" x2="68" y2="265.1" stroke="#8c8c8c" stroke-width="0.7"/>
<text x="50" y="264.33" font-size="3.8" text-anchor="middle" fill="#e8909a" font-weight="bold" stroke="#e8909a" stroke-width="0.18">ns</text>
<line x1="26.9" y1="269.75" x2="62.6" y2="269.75" stroke="#8c8c8c" stroke-width="0.7"/>
<text x="45" y="268.98" font-size="3.8" text-anchor="middle" fill="#b0ac38" font-weight="bold" stroke="#b0ac38" stroke-width="0.18">ns</text>
<line x1="26.3" y1="277.15" x2="48" y2="277.15" stroke="#8c8c8c" stroke-width="0.7"/>
<ellipse cx="35.35" cy="275.35" rx="1.05" ry="0.9" fill="#111"/>
<ellipse cx="37.70" cy="275.35" rx="1.05" ry="0.9" fill="#111"/>
<ellipse cx="40.05" cy="275.35" rx="1.05" ry="0.9" fill="#111"/>
<line x1="32.7" y1="281.3" x2="37.5" y2="281.3" stroke="#8c8c8c" stroke-width="0.7"/>
<ellipse cx="35.10" cy="279.50" rx="1.05" ry="0.9" fill="#111"/>
<line x1="38.25" y1="281.3" x2="43.75" y2="281.3" stroke="#8c8c8c" stroke-width="0.7"/>
<ellipse cx="38.55" cy="279.50" rx="1.05" ry="0.9" fill="#111"/>
<ellipse cx="40.90" cy="279.50" rx="1.05" ry="0.9" fill="#111"/>
<ellipse cx="43.25" cy="279.50" rx="1.05" ry="0.9" fill="#111"/>
<line x1="62" y1="277.6" x2="83.9" y2="277.6" stroke="#8c8c8c" stroke-width="0.7"/>
<ellipse cx="73.90" cy="275.80" rx="1.05" ry="0.9" fill="#111"/>
<line x1="62.2" y1="281.2" x2="67.9" y2="281.2" stroke="#8c8c8c" stroke-width="0.7"/>
<ellipse cx="64.50" cy="279.40" rx="1.05" ry="0.9" fill="#111"/>
<line x1="118.75" y1="250.5" x2="154.4" y2="250.5" stroke="#8c8c8c" stroke-width="0.7"/>
<text x="136.25" y="249.73" font-size="3.8" text-anchor="middle" fill="#2c2c88" font-weight="bold" stroke="#2c2c88" stroke-width="0.18">ns</text>
<line x1="113.5" y1="255.1" x2="149.4" y2="255.1" stroke="#8c8c8c" stroke-width="0.7"/>
<ellipse cx="131.00" cy="253.30" rx="1.05" ry="0.9" fill="#6068d8"/>
<line x1="108.25" y1="260.5" x2="143.75" y2="260.5" stroke="#8c8c8c" stroke-width="0.7"/>
<ellipse cx="125.60" cy="258.70" rx="1.05" ry="0.9" fill="#d85cd0"/>
<line x1="102.9" y1="265.1" x2="138.5" y2="265.1" stroke="#8c8c8c" stroke-width="0.7"/>
<text x="121" y="264.33" font-size="3.8" text-anchor="middle" fill="#e8909a" font-weight="bold" stroke="#e8909a" stroke-width="0.18">ns</text>
<line x1="97.5" y1="269.75" x2="133.1" y2="269.75" stroke="#8c8c8c" stroke-width="0.7"/>
<text x="116" y="268.98" font-size="3.8" text-anchor="middle" fill="#b0ac38" font-weight="bold" stroke="#b0ac38" stroke-width="0.18">ns</text>
<line x1="97.5" y1="280.4" x2="119.5" y2="280.4" stroke="#8c8c8c" stroke-width="0.7"/>
<text x="108.3" y="279.63" font-size="3.8" text-anchor="middle" fill="#111" font-weight="bold" stroke="#111" stroke-width="0.18">ns</text>
<line x1="108.6" y1="285.6" x2="114.25" y2="285.6" stroke="#8c8c8c" stroke-width="0.7"/>
<ellipse cx="111.25" cy="283.80" rx="1.05" ry="0.9" fill="#111"/>
<line x1="132.5" y1="280.5" x2="154" y2="280.5" stroke="#8c8c8c" stroke-width="0.7"/>
<ellipse cx="143.30" cy="278.70" rx="1.05" ry="0.9" fill="#111"/>
<line x1="132.5" y1="291.25" x2="137.9" y2="291.25" stroke="#8c8c8c" stroke-width="0.7"/>
<ellipse cx="134.57" cy="289.45" rx="1.05" ry="0.9" fill="#111"/>
<ellipse cx="136.92" cy="289.45" rx="1.05" ry="0.9" fill="#111"/>
<line x1="137.9" y1="296.5" x2="143.75" y2="296.5" stroke="#8c8c8c" stroke-width="0.7"/>
<ellipse cx="139.82" cy="294.70" rx="1.05" ry="0.9" fill="#111"/>
<ellipse cx="142.17" cy="294.70" rx="1.05" ry="0.9" fill="#111"/>
<line x1="27.1" y1="291" x2="27.1" y2="296.5" stroke="#747474" stroke-width="0.7"/>
<line x1="27.1" y1="304.4" x2="27.1" y2="309" stroke="#747474" stroke-width="0.7"/>
<line x1="26.0" y1="291" x2="28.200000000000003" y2="291" stroke="#555" stroke-width="0.8"/>
<line x1="26.0" y1="309" x2="28.200000000000003" y2="309" stroke="#555" stroke-width="0.8"/>
<rect x="25.5" y="296.5" width="3.2" height="7.899999999999977" fill="#bcbc30" stroke="#5e5c12" stroke-width="0.65"/>
<line x1="25.5" y1="300.6" x2="28.700000000000003" y2="300.6" stroke="#5e5c12" stroke-width="0.6"/>
<line x1="32.7" y1="282.5" x2="32.7" y2="293.1" stroke="#747474" stroke-width="0.7"/>
<line x1="32.7" y1="303.5" x2="32.7" y2="308.1" stroke="#747474" stroke-width="0.7"/>
<line x1="31.6" y1="282.5" x2="33.800000000000004" y2="282.5" stroke="#555" stroke-width="0.8"/>
<line x1="31.6" y1="308.1" x2="33.800000000000004" y2="308.1" stroke="#555" stroke-width="0.8"/>
<rect x="31.1" y="293.1" width="3.2" height="10.399999999999977" fill="#f2a6aa" stroke="#9a5a66" stroke-width="0.65"/>
<line x1="31.1" y1="300" x2="34.300000000000004" y2="300" stroke="#9a5a66" stroke-width="0.6"/>
<line x1="38.25" y1="282.75" x2="38.25" y2="294.4" stroke="#747474" stroke-width="0.7"/>
<line x1="38.25" y1="304.4" x2="38.25" y2="308.75" stroke="#747474" stroke-width="0.7"/>
<line x1="37.15" y1="282.75" x2="39.35" y2="282.75" stroke="#555" stroke-width="0.8"/>
<line x1="37.15" y1="308.75" x2="39.35" y2="308.75" stroke="#555" stroke-width="0.8"/>
<rect x="36.65" y="294.4" width="3.2" height="10.0" fill="#e86ee0" stroke="#8a3484" stroke-width="0.65"/>
<line x1="36.65" y1="301.9" x2="39.85" y2="301.9" stroke="#8a3484" stroke-width="0.6"/>
<line x1="43.75" y1="297.25" x2="43.75" y2="301.5" stroke="#747474" stroke-width="0.7"/>
<line x1="43.75" y1="305.25" x2="43.75" y2="310.25" stroke="#747474" stroke-width="0.7"/>
<line x1="42.65" y1="297.25" x2="44.85" y2="297.25" stroke="#555" stroke-width="0.8"/>
<line x1="42.65" y1="310.25" x2="44.85" y2="310.25" stroke="#555" stroke-width="0.8"/>
<rect x="42.15" y="301.5" width="3.2" height="3.75" fill="#7880ec" stroke="#44489a" stroke-width="0.65"/>
<line x1="42.15" y1="303.5" x2="45.35" y2="303.5" stroke="#44489a" stroke-width="0.6"/>
<line x1="49.25" y1="293.75" x2="49.25" y2="300.6" stroke="#747474" stroke-width="0.7"/>
<line x1="49.25" y1="306.25" x2="49.25" y2="310.6" stroke="#747474" stroke-width="0.7"/>
<line x1="48.15" y1="293.75" x2="50.35" y2="293.75" stroke="#555" stroke-width="0.8"/>
<line x1="48.15" y1="310.6" x2="50.35" y2="310.6" stroke="#555" stroke-width="0.8"/>
<rect x="47.65" y="300.6" width="3.2" height="5.649999999999977" fill="#3a3cae" stroke="#1e2060" stroke-width="0.65"/>
<line x1="47.65" y1="303.5" x2="50.85" y2="303.5" stroke="#1e2060" stroke-width="0.6"/>
<line x1="62.2" y1="288.1" x2="62.2" y2="290" stroke="#747474" stroke-width="0.7"/>
<line x1="62.2" y1="301.25" x2="62.2" y2="307.75" stroke="#747474" stroke-width="0.7"/>
<line x1="61.1" y1="288.1" x2="63.300000000000004" y2="288.1" stroke="#555" stroke-width="0.8"/>
<line x1="61.1" y1="307.75" x2="63.300000000000004" y2="307.75" stroke="#555" stroke-width="0.8"/>
<rect x="60.6" y="290" width="3.2" height="11.25" fill="#bcbc30" stroke="#5e5c12" stroke-width="0.65"/>
<line x1="60.6" y1="296" x2="63.800000000000004" y2="296" stroke="#5e5c12" stroke-width="0.6"/>
<line x1="67.9" y1="292.5" x2="67.9" y2="297.25" stroke="#747474" stroke-width="0.7"/>
<line x1="67.9" y1="305.6" x2="67.9" y2="311.25" stroke="#747474" stroke-width="0.7"/>
<line x1="66.80000000000001" y1="292.5" x2="69.0" y2="292.5" stroke="#555" stroke-width="0.8"/>
<line x1="66.80000000000001" y1="311.25" x2="69.0" y2="311.25" stroke="#555" stroke-width="0.8"/>
<rect x="66.30000000000001" y="297.25" width="3.2" height="8.350000000000023" fill="#f2a6aa" stroke="#9a5a66" stroke-width="0.65"/>
<line x1="66.30000000000001" y1="301.5" x2="69.5" y2="301.5" stroke="#9a5a66" stroke-width="0.6"/>
<line x1="73.4" y1="297.75" x2="73.4" y2="301.5" stroke="#747474" stroke-width="0.7"/>
<line x1="73.4" y1="305.6" x2="73.4" y2="310.25" stroke="#747474" stroke-width="0.7"/>
<line x1="72.30000000000001" y1="297.75" x2="74.5" y2="297.75" stroke="#555" stroke-width="0.8"/>
<line x1="72.30000000000001" y1="310.25" x2="74.5" y2="310.25" stroke="#555" stroke-width="0.8"/>
<rect x="71.80000000000001" y="301.5" width="3.2" height="4.100000000000023" fill="#e86ee0" stroke="#8a3484" stroke-width="0.65"/>
<line x1="71.80000000000001" y1="303.5" x2="75.0" y2="303.5" stroke="#8a3484" stroke-width="0.6"/>
<line x1="79" y1="296.5" x2="79" y2="299" stroke="#747474" stroke-width="0.7"/>
<line x1="79" y1="306" x2="79" y2="310.6" stroke="#747474" stroke-width="0.7"/>
<line x1="77.9" y1="296.5" x2="80.1" y2="296.5" stroke="#555" stroke-width="0.8"/>
<line x1="77.9" y1="310.6" x2="80.1" y2="310.6" stroke="#555" stroke-width="0.8"/>
<rect x="77.4" y="299" width="3.2" height="7" fill="#7880ec" stroke="#44489a" stroke-width="0.65"/>
<line x1="77.4" y1="302.5" x2="80.6" y2="302.5" stroke="#44489a" stroke-width="0.6"/>
<line x1="84.7" y1="292.5" x2="84.7" y2="301" stroke="#747474" stroke-width="0.7"/>
<line x1="84.7" y1="308.75" x2="84.7" y2="312.25" stroke="#747474" stroke-width="0.7"/>
<line x1="83.60000000000001" y1="292.5" x2="85.8" y2="292.5" stroke="#555" stroke-width="0.8"/>
<line x1="83.60000000000001" y1="312.25" x2="85.8" y2="312.25" stroke="#555" stroke-width="0.8"/>
<rect x="83.10000000000001" y="301" width="3.2" height="7.75" fill="#3a3cae" stroke="#1e2060" stroke-width="0.65"/>
<line x1="83.10000000000001" y1="305" x2="86.3" y2="305" stroke="#1e2060" stroke-width="0.6"/>
<line x1="97.7" y1="295" x2="97.7" y2="300" stroke="#747474" stroke-width="0.7"/>
<line x1="97.7" y1="307.25" x2="97.7" y2="310.25" stroke="#747474" stroke-width="0.7"/>
<line x1="96.60000000000001" y1="295" x2="98.8" y2="295" stroke="#555" stroke-width="0.8"/>
<line x1="96.60000000000001" y1="310.25" x2="98.8" y2="310.25" stroke="#555" stroke-width="0.8"/>
<rect x="96.10000000000001" y="300" width="3.2" height="7.25" fill="#bcbc30" stroke="#5e5c12" stroke-width="0.65"/>
<line x1="96.10000000000001" y1="303.5" x2="99.3" y2="303.5" stroke="#5e5c12" stroke-width="0.6"/>
<line x1="103" y1="293.75" x2="103" y2="301" stroke="#747474" stroke-width="0.7"/>
<line x1="103" y1="307.25" x2="103" y2="310.25" stroke="#747474" stroke-width="0.7"/>
<line x1="101.9" y1="293.75" x2="104.1" y2="293.75" stroke="#555" stroke-width="0.8"/>
<line x1="101.9" y1="310.25" x2="104.1" y2="310.25" stroke="#555" stroke-width="0.8"/>
<rect x="101.4" y="301" width="3.2" height="6.25" fill="#f2a6aa" stroke="#9a5a66" stroke-width="0.65"/>
<line x1="101.4" y1="304" x2="104.6" y2="304" stroke="#9a5a66" stroke-width="0.6"/>
<line x1="108.6" y1="287.25" x2="108.6" y2="297.5" stroke="#747474" stroke-width="0.7"/>
<line x1="108.6" y1="308.1" x2="108.6" y2="311.5" stroke="#747474" stroke-width="0.7"/>
<line x1="107.5" y1="287.25" x2="109.69999999999999" y2="287.25" stroke="#555" stroke-width="0.8"/>
<line x1="107.5" y1="311.5" x2="109.69999999999999" y2="311.5" stroke="#555" stroke-width="0.8"/>
<rect x="107.0" y="297.5" width="3.2" height="10.600000000000023" fill="#e86ee0" stroke="#8a3484" stroke-width="0.65"/>
<line x1="107.0" y1="303" x2="110.19999999999999" y2="303" stroke="#8a3484" stroke-width="0.6"/>
<line x1="114.25" y1="294.4" x2="114.25" y2="299.4" stroke="#747474" stroke-width="0.7"/>
<line x1="114.25" y1="307.25" x2="114.25" y2="310" stroke="#747474" stroke-width="0.7"/>
<line x1="113.15" y1="294.4" x2="115.35" y2="294.4" stroke="#555" stroke-width="0.8"/>
<line x1="113.15" y1="310" x2="115.35" y2="310" stroke="#555" stroke-width="0.8"/>
<rect x="112.65" y="299.4" width="3.2" height="7.850000000000023" fill="#7880ec" stroke="#44489a" stroke-width="0.65"/>
<line x1="112.65" y1="303.5" x2="115.85" y2="303.5" stroke="#44489a" stroke-width="0.6"/>
<line x1="119.8" y1="292.5" x2="119.8" y2="301.5" stroke="#747474" stroke-width="0.7"/>
<line x1="119.8" y1="308.1" x2="119.8" y2="310.6" stroke="#747474" stroke-width="0.7"/>
<line x1="118.7" y1="292.5" x2="120.89999999999999" y2="292.5" stroke="#555" stroke-width="0.8"/>
<line x1="118.7" y1="310.6" x2="120.89999999999999" y2="310.6" stroke="#555" stroke-width="0.8"/>
<rect x="118.2" y="301.5" width="3.2" height="6.600000000000023" fill="#3a3cae" stroke="#1e2060" stroke-width="0.65"/>
<line x1="118.2" y1="305" x2="121.39999999999999" y2="305" stroke="#1e2060" stroke-width="0.6"/>
<line x1="132.5" y1="294.4" x2="132.5" y2="296.25" stroke="#747474" stroke-width="0.7"/>
<line x1="132.5" y1="308.75" x2="132.5" y2="310" stroke="#747474" stroke-width="0.7"/>
<line x1="131.4" y1="294.4" x2="133.6" y2="294.4" stroke="#555" stroke-width="0.8"/>
<line x1="131.4" y1="310" x2="133.6" y2="310" stroke="#555" stroke-width="0.8"/>
<rect x="130.9" y="296.25" width="3.2" height="12.5" fill="#bcbc30" stroke="#5e5c12" stroke-width="0.65"/>
<line x1="130.9" y1="303.1" x2="134.1" y2="303.1" stroke="#5e5c12" stroke-width="0.6"/>
<line x1="137.9" y1="300.6" x2="137.9" y2="304" stroke="#747474" stroke-width="0.7"/>
<line x1="137.9" y1="308.5" x2="137.9" y2="311.25" stroke="#747474" stroke-width="0.7"/>
<line x1="136.8" y1="300.6" x2="139.0" y2="300.6" stroke="#555" stroke-width="0.8"/>
<line x1="136.8" y1="311.25" x2="139.0" y2="311.25" stroke="#555" stroke-width="0.8"/>
<rect x="136.3" y="304" width="3.2" height="4.5" fill="#f2a6aa" stroke="#9a5a66" stroke-width="0.65"/>
<line x1="136.3" y1="306.5" x2="139.5" y2="306.5" stroke="#9a5a66" stroke-width="0.6"/>
<line x1="143.75" y1="300" x2="143.75" y2="304" stroke="#747474" stroke-width="0.7"/>
<line x1="143.75" y1="309.4" x2="143.75" y2="311.9" stroke="#747474" stroke-width="0.7"/>
<line x1="142.65" y1="300" x2="144.85" y2="300" stroke="#555" stroke-width="0.8"/>
<line x1="142.65" y1="311.9" x2="144.85" y2="311.9" stroke="#555" stroke-width="0.8"/>
<rect x="142.15" y="304" width="3.2" height="5.399999999999977" fill="#e86ee0" stroke="#8a3484" stroke-width="0.65"/>
<line x1="142.15" y1="306.7" x2="145.35" y2="306.7" stroke="#8a3484" stroke-width="0.6"/>
<line x1="149.1" y1="298.75" x2="149.1" y2="304.75" stroke="#747474" stroke-width="0.7"/>
<line x1="149.1" y1="309.75" x2="149.1" y2="311.25" stroke="#747474" stroke-width="0.7"/>
<line x1="148.0" y1="298.75" x2="150.2" y2="298.75" stroke="#555" stroke-width="0.8"/>
<line x1="148.0" y1="311.25" x2="150.2" y2="311.25" stroke="#555" stroke-width="0.8"/>
<rect x="147.5" y="304.75" width="3.2" height="5.0" fill="#7880ec" stroke="#44489a" stroke-width="0.65"/>
<line x1="147.5" y1="307.3" x2="150.7" y2="307.3" stroke="#44489a" stroke-width="0.6"/>
<line x1="154.9" y1="301.25" x2="154.9" y2="304" stroke="#747474" stroke-width="0.7"/>
<line x1="154.9" y1="309.75" x2="154.9" y2="310.6" stroke="#747474" stroke-width="0.7"/>
<line x1="153.8" y1="301.25" x2="156.0" y2="301.25" stroke="#555" stroke-width="0.8"/>
<line x1="153.8" y1="310.6" x2="156.0" y2="310.6" stroke="#555" stroke-width="0.8"/>
<rect x="153.3" y="304" width="3.2" height="5.75" fill="#3a3cae" stroke="#1e2060" stroke-width="0.65"/>
<line x1="153.3" y1="307" x2="156.5" y2="307" stroke="#1e2060" stroke-width="0.6"/>
<circle cx="32.5" cy="260.5" r="0.55" fill="#8a3484" fill-opacity="0.75"/>
<circle cx="32.5" cy="262.2" r="0.55" fill="#9a5a66" fill-opacity="0.75"/>
<circle cx="43.75" cy="292.5" r="0.55" fill="#44489a" fill-opacity="0.75"/>
<circle cx="49.25" cy="287.5" r="0.55" fill="#1e2060" fill-opacity="0.75"/>
<circle cx="73.4" cy="291.9" r="0.55" fill="#8a3484" fill-opacity="0.75"/>
<circle cx="97.7" cy="288" r="0.55" fill="#5e5c12" fill-opacity="0.75"/>
<circle cx="103" cy="289" r="0.55" fill="#9a5a66" fill-opacity="0.75"/>
<circle cx="119.8" cy="284" r="0.55" fill="#1e2060" fill-opacity="0.75"/>
<text x="172.5" y="230.9" font-size="7.0" text-anchor="start" fill="#111" font-weight="bold" stroke="#111" stroke-width="0.25">F</text>
<text x="264.75" y="232.1" font-size="7.8" text-anchor="middle" fill="#111" font-weight="bold" stroke="#111" stroke-width="0.22">NK cell</text>
<text x="229.45" y="242.0" font-size="5.55" text-anchor="middle" fill="#111" font-weight="bold" stroke="#111" stroke-width="0.16">Chemotherapy</text>
<text x="300.9" y="242.0" font-size="5.55" text-anchor="middle" fill="#111" font-weight="bold" stroke="#111" stroke-width="0.16">Combination</text>
<line x1="196.2" y1="244.8" x2="331.8" y2="244.8" stroke="#858585" stroke-width="0.9"/>
<line x1="331.8" y1="244.8" x2="331.8" y2="312.4" stroke="#8a8a8a" stroke-width="0.9"/>
<line x1="263.6" y1="244.8" x2="263.6" y2="312.4" stroke="#ccc" stroke-width="0.9"/>
<line x1="196.2" y1="244.8" x2="196.2" y2="312.4" stroke="#777" stroke-width="0.9"/>
<line x1="196.2" y1="312.4" x2="331.8" y2="312.4" stroke="#555" stroke-width="0.9"/>
<line x1="194.2" y1="244.8" x2="196.2" y2="244.8" stroke="#666" stroke-width="0.7"/>
<text x="193.0" y="246.65" font-size="5.0" text-anchor="end" fill="#111" font-weight="bold" stroke="#111" stroke-width="0.18">1500</text>
<line x1="194.2" y1="267.3" x2="196.2" y2="267.3" stroke="#666" stroke-width="0.7"/>
<text x="193.0" y="269.15000000000003" font-size="5.0" text-anchor="end" fill="#111" font-weight="bold" stroke="#111" stroke-width="0.18">1000</text>
<line x1="194.2" y1="289.9" x2="196.2" y2="289.9" stroke="#666" stroke-width="0.7"/>
<text x="193.0" y="291.75" font-size="5.0" text-anchor="end" fill="#111" font-weight="bold" stroke="#111" stroke-width="0.18">500</text>
<line x1="194.2" y1="312.4" x2="196.2" y2="312.4" stroke="#666" stroke-width="0.7"/>
<text x="193.0" y="314.25" font-size="5.0" text-anchor="end" fill="#111" font-weight="bold" stroke="#111" stroke-width="0.18">0</text>
<text x="177.1" y="280.4" font-size="5.7" text-anchor="middle" fill="#111" font-weight="bold" stroke="#111" stroke-width="0.15" transform="rotate(-90 177.1 280.4)">Absolute count (/ul)</text>
<text x="209.9" y="318.7" font-size="4.85" text-anchor="middle" fill="#111" font-weight="bold" stroke="#111" stroke-width="0.2">Response</text>
<text x="246.1" y="318.7" font-size="4.85" text-anchor="middle" fill="#111" font-weight="bold" stroke="#111" stroke-width="0.2">Non-response</text>
<text x="281.6" y="318.7" font-size="4.85" text-anchor="middle" fill="#111" font-weight="bold" stroke="#111" stroke-width="0.2">Response</text>
<text x="315.7" y="318.7" font-size="4.85" text-anchor="middle" fill="#111" font-weight="bold" stroke="#111" stroke-width="0.2">Non-response</text>
<line x1="222.25" y1="249.2" x2="256.6" y2="249.2" stroke="#8c8c8c" stroke-width="0.7"/>
<text x="241" y="248.43" font-size="3.8" text-anchor="middle" fill="#2c2c88" font-weight="bold" stroke="#2c2c88" stroke-width="0.18">ns</text>
<line x1="217" y1="253.5" x2="251.6" y2="253.5" stroke="#8c8c8c" stroke-width="0.7"/>
<text x="234.75" y="252.73" font-size="3.8" text-anchor="middle" fill="#6068d8" font-weight="bold" stroke="#6068d8" stroke-width="0.18">ns</text>
<line x1="211" y1="257.6" x2="246" y2="257.6" stroke="#8c8c8c" stroke-width="0.7"/>
<text x="228.9" y="256.83" font-size="3.8" text-anchor="middle" fill="#d85cd0" font-weight="bold" stroke="#d85cd0" stroke-width="0.18">ns</text>
<line x1="205.75" y1="261.75" x2="240" y2="261.75" stroke="#8c8c8c" stroke-width="0.7"/>
<text x="222.5" y="260.98" font-size="3.8" text-anchor="middle" fill="#e8909a" font-weight="bold" stroke="#e8909a" stroke-width="0.18">ns</text>
<line x1="200" y1="265.8" x2="234.5" y2="265.8" stroke="#8c8c8c" stroke-width="0.7"/>
<text x="216.4" y="265.03" font-size="3.8" text-anchor="middle" fill="#b0ac38" font-weight="bold" stroke="#b0ac38" stroke-width="0.18">ns</text>
<line x1="199.7" y1="273.4" x2="221.2" y2="273.4" stroke="#8c8c8c" stroke-width="0.7"/>
<text x="210.5" y="272.63" font-size="3.8" text-anchor="middle" fill="#111" font-weight="bold" stroke="#111" stroke-width="0.18">ns</text>
<line x1="211" y1="279.7" x2="216.5" y2="279.7" stroke="#8c8c8c" stroke-width="0.7"/>
<ellipse cx="212.57" cy="277.90" rx="1.05" ry="0.9" fill="#111"/>
<ellipse cx="214.92" cy="277.90" rx="1.05" ry="0.9" fill="#111"/>
<line x1="234.1" y1="273.25" x2="256.25" y2="273.25" stroke="#8c8c8c" stroke-width="0.7"/>
<text x="245.75" y="272.48" font-size="3.8" text-anchor="middle" fill="#111" font-weight="bold" stroke="#111" stroke-width="0.18">ns</text>
<line x1="292" y1="249.25" x2="326.6" y2="249.25" stroke="#8c8c8c" stroke-width="0.7"/>
<ellipse cx="310.40" cy="247.45" rx="1.05" ry="0.9" fill="#2c2c88"/>
<line x1="286.4" y1="253.5" x2="321.6" y2="253.5" stroke="#8c8c8c" stroke-width="0.7"/>
<ellipse cx="304.75" cy="251.70" rx="1.05" ry="0.9" fill="#6068d8"/>
<line x1="281" y1="257.6" x2="316.25" y2="257.6" stroke="#8c8c8c" stroke-width="0.7"/>
<ellipse cx="299.10" cy="255.80" rx="1.05" ry="0.9" fill="#d85cd0"/>
<line x1="275.1" y1="261.75" x2="310.4" y2="261.75" stroke="#8c8c8c" stroke-width="0.7"/>
<text x="293.25" y="260.98" font-size="3.8" text-anchor="middle" fill="#e8909a" font-weight="bold" stroke="#e8909a" stroke-width="0.18">ns</text>
<line x1="269.75" y1="265.75" x2="305" y2="265.75" stroke="#8c8c8c" stroke-width="0.7"/>
<text x="287.6" y="264.98" font-size="3.8" text-anchor="middle" fill="#b0ac38" font-weight="bold" stroke="#b0ac38" stroke-width="0.18">ns</text>
<line x1="269.75" y1="273.25" x2="291.75" y2="273.25" stroke="#8c8c8c" stroke-width="0.7"/>
<text x="280.75" y="272.48" font-size="3.8" text-anchor="middle" fill="#111" font-weight="bold" stroke="#111" stroke-width="0.18">ns</text>
<line x1="304.5" y1="273.25" x2="326.6" y2="273.25" stroke="#8c8c8c" stroke-width="0.7"/>
<ellipse cx="316.00" cy="271.45" rx="1.05" ry="0.9" fill="#111"/>
<line x1="199.9" y1="286.9" x2="199.9" y2="296.9" stroke="#747474" stroke-width="0.7"/>
<line x1="199.9" y1="304.75" x2="199.9" y2="309" stroke="#747474" stroke-width="0.7"/>
<line x1="198.8" y1="286.9" x2="201.0" y2="286.9" stroke="#555" stroke-width="0.8"/>
<line x1="198.8" y1="309" x2="201.0" y2="309" stroke="#555" stroke-width="0.8"/>
<rect x="198.3" y="296.9" width="3.2" height="7.850000000000023" fill="#bcbc30" stroke="#5e5c12" stroke-width="0.65"/>
<line x1="198.3" y1="301.25" x2="201.5" y2="301.25" stroke="#5e5c12" stroke-width="0.6"/>
<line x1="205.25" y1="273.4" x2="205.25" y2="292.75" stroke="#747474" stroke-width="0.7"/>
<line x1="205.25" y1="305.25" x2="205.25" y2="308.5" stroke="#747474" stroke-width="0.7"/>
<line x1="204.15" y1="273.4" x2="206.35" y2="273.4" stroke="#555" stroke-width="0.8"/>
<line x1="204.15" y1="308.5" x2="206.35" y2="308.5" stroke="#555" stroke-width="0.8"/>
<rect x="203.65" y="292.75" width="3.2" height="12.5" fill="#f2a6aa" stroke="#9a5a66" stroke-width="0.65"/>
<line x1="203.65" y1="300" x2="206.85" y2="300" stroke="#9a5a66" stroke-width="0.6"/>
<line x1="211" y1="279.75" x2="211" y2="294" stroke="#747474" stroke-width="0.7"/>
<line x1="211" y1="304.4" x2="211" y2="311.25" stroke="#747474" stroke-width="0.7"/>
<line x1="209.9" y1="279.75" x2="212.1" y2="279.75" stroke="#555" stroke-width="0.8"/>
<line x1="209.9" y1="311.25" x2="212.1" y2="311.25" stroke="#555" stroke-width="0.8"/>
<rect x="209.4" y="294" width="3.2" height="10.399999999999977" fill="#e86ee0" stroke="#8a3484" stroke-width="0.65"/>
<line x1="209.4" y1="300.5" x2="212.6" y2="300.5" stroke="#8a3484" stroke-width="0.6"/>
<line x1="216.5" y1="291.5" x2="216.5" y2="299" stroke="#747474" stroke-width="0.7"/>
<line x1="216.5" y1="305.6" x2="216.5" y2="309" stroke="#747474" stroke-width="0.7"/>
<line x1="215.4" y1="291.5" x2="217.6" y2="291.5" stroke="#555" stroke-width="0.8"/>
<line x1="215.4" y1="309" x2="217.6" y2="309" stroke="#555" stroke-width="0.8"/>
<rect x="214.9" y="299" width="3.2" height="6.600000000000023" fill="#7880ec" stroke="#44489a" stroke-width="0.65"/>
<line x1="214.9" y1="302" x2="218.1" y2="302" stroke="#44489a" stroke-width="0.6"/>
<line x1="221.9" y1="291.9" x2="221.9" y2="300" stroke="#747474" stroke-width="0.7"/>
<line x1="221.9" y1="305.6" x2="221.9" y2="308.5" stroke="#747474" stroke-width="0.7"/>
<line x1="220.8" y1="291.9" x2="223.0" y2="291.9" stroke="#555" stroke-width="0.8"/>
<line x1="220.8" y1="308.5" x2="223.0" y2="308.5" stroke="#555" stroke-width="0.8"/>
<rect x="220.3" y="300" width="3.2" height="5.600000000000023" fill="#3a3cae" stroke="#1e2060" stroke-width="0.65"/>
<line x1="220.3" y1="303" x2="223.5" y2="303" stroke="#1e2060" stroke-width="0.6"/>
<line x1="235.1" y1="293.75" x2="235.1" y2="295" stroke="#747474" stroke-width="0.7"/>
<line x1="235.1" y1="305.6" x2="235.1" y2="310.6" stroke="#747474" stroke-width="0.7"/>
<line x1="234.0" y1="293.75" x2="236.2" y2="293.75" stroke="#555" stroke-width="0.8"/>
<line x1="234.0" y1="310.6" x2="236.2" y2="310.6" stroke="#555" stroke-width="0.8"/>
<rect x="233.5" y="295" width="3.2" height="10.600000000000023" fill="#bcbc30" stroke="#5e5c12" stroke-width="0.65"/>
<line x1="233.5" y1="300.5" x2="236.7" y2="300.5" stroke="#5e5c12" stroke-width="0.6"/>
<line x1="240.5" y1="290.25" x2="240.5" y2="300" stroke="#747474" stroke-width="0.7"/>
<line x1="240.5" y1="305.6" x2="240.5" y2="309.4" stroke="#747474" stroke-width="0.7"/>
<line x1="239.4" y1="290.25" x2="241.6" y2="290.25" stroke="#555" stroke-width="0.8"/>
<line x1="239.4" y1="309.4" x2="241.6" y2="309.4" stroke="#555" stroke-width="0.8"/>
<rect x="238.9" y="300" width="3.2" height="5.600000000000023" fill="#f2a6aa" stroke="#9a5a66" stroke-width="0.65"/>
<line x1="238.9" y1="303" x2="242.1" y2="303" stroke="#9a5a66" stroke-width="0.6"/>
<line x1="246.1" y1="297.5" x2="246.1" y2="300" stroke="#747474" stroke-width="0.7"/>
<line x1="246.1" y1="306.9" x2="246.1" y2="310.25" stroke="#747474" stroke-width="0.7"/>
<line x1="245.0" y1="297.5" x2="247.2" y2="297.5" stroke="#555" stroke-width="0.8"/>
<line x1="245.0" y1="310.25" x2="247.2" y2="310.25" stroke="#555" stroke-width="0.8"/>
<rect x="244.5" y="300" width="3.2" height="6.899999999999977" fill="#e86ee0" stroke="#8a3484" stroke-width="0.65"/>
<line x1="244.5" y1="303.5" x2="247.7" y2="303.5" stroke="#8a3484" stroke-width="0.6"/>
<line x1="251.5" y1="293.1" x2="251.5" y2="300.6" stroke="#747474" stroke-width="0.7"/>
<line x1="251.5" y1="306.25" x2="251.5" y2="308.75" stroke="#747474" stroke-width="0.7"/>
<line x1="250.4" y1="293.1" x2="252.6" y2="293.1" stroke="#555" stroke-width="0.8"/>
<line x1="250.4" y1="308.75" x2="252.6" y2="308.75" stroke="#555" stroke-width="0.8"/>
<rect x="249.9" y="300.6" width="3.2" height="5.649999999999977" fill="#7880ec" stroke="#44489a" stroke-width="0.65"/>
<line x1="249.9" y1="303.5" x2="253.1" y2="303.5" stroke="#44489a" stroke-width="0.6"/>
<line x1="257.25" y1="298.1" x2="257.25" y2="299.4" stroke="#747474" stroke-width="0.7"/>
<line x1="257.25" y1="306.9" x2="257.25" y2="310" stroke="#747474" stroke-width="0.7"/>
<line x1="256.15" y1="298.1" x2="258.35" y2="298.1" stroke="#555" stroke-width="0.8"/>
<line x1="256.15" y1="310" x2="258.35" y2="310" stroke="#555" stroke-width="0.8"/>
<rect x="255.65" y="299.4" width="3.2" height="7.5" fill="#3a3cae" stroke="#1e2060" stroke-width="0.65"/>
<line x1="255.65" y1="303" x2="258.85" y2="303" stroke="#1e2060" stroke-width="0.6"/>
<line x1="270" y1="287.25" x2="270" y2="296.25" stroke="#747474" stroke-width="0.7"/>
<line x1="270" y1="306.9" x2="270" y2="309.4" stroke="#747474" stroke-width="0.7"/>
<line x1="268.9" y1="287.25" x2="271.1" y2="287.25" stroke="#555" stroke-width="0.8"/>
<line x1="268.9" y1="309.4" x2="271.1" y2="309.4" stroke="#555" stroke-width="0.8"/>
<rect x="268.4" y="296.25" width="3.2" height="10.649999999999977" fill="#bcbc30" stroke="#5e5c12" stroke-width="0.65"/>
<line x1="268.4" y1="301.25" x2="271.6" y2="301.25" stroke="#5e5c12" stroke-width="0.6"/>
<line x1="275.6" y1="289.4" x2="275.6" y2="294.4" stroke="#747474" stroke-width="0.7"/>
<line x1="275.6" y1="304.4" x2="275.6" y2="308.5" stroke="#747474" stroke-width="0.7"/>
<line x1="274.5" y1="289.4" x2="276.70000000000005" y2="289.4" stroke="#555" stroke-width="0.8"/>
<line x1="274.5" y1="308.5" x2="276.70000000000005" y2="308.5" stroke="#555" stroke-width="0.8"/>
<rect x="274.0" y="294.4" width="3.2" height="10.0" fill="#f2a6aa" stroke="#9a5a66" stroke-width="0.65"/>
<line x1="274.0" y1="301.25" x2="277.20000000000005" y2="301.25" stroke="#9a5a66" stroke-width="0.6"/>
<line x1="281.1" y1="286.5" x2="281.1" y2="294" stroke="#747474" stroke-width="0.7"/>
<line x1="281.1" y1="303.75" x2="281.1" y2="308.5" stroke="#747474" stroke-width="0.7"/>
<line x1="280.0" y1="286.5" x2="282.20000000000005" y2="286.5" stroke="#555" stroke-width="0.8"/>
<line x1="280.0" y1="308.5" x2="282.20000000000005" y2="308.5" stroke="#555" stroke-width="0.8"/>
<rect x="279.5" y="294" width="3.2" height="9.75" fill="#e86ee0" stroke="#8a3484" stroke-width="0.65"/>
<line x1="279.5" y1="298.5" x2="282.70000000000005" y2="298.5" stroke="#8a3484" stroke-width="0.6"/>
<line x1="287" y1="279.4" x2="287" y2="290.6" stroke="#747474" stroke-width="0.7"/>
<line x1="287" y1="304" x2="287" y2="306.9" stroke="#747474" stroke-width="0.7"/>
<line x1="285.9" y1="279.4" x2="288.1" y2="279.4" stroke="#555" stroke-width="0.8"/>
<line x1="285.9" y1="306.9" x2="288.1" y2="306.9" stroke="#555" stroke-width="0.8"/>
<rect x="285.4" y="290.6" width="3.2" height="13.399999999999977" fill="#7880ec" stroke="#44489a" stroke-width="0.65"/>
<line x1="285.4" y1="300.6" x2="288.6" y2="300.6" stroke="#44489a" stroke-width="0.6"/>
<line x1="292.5" y1="282.5" x2="292.5" y2="293.5" stroke="#747474" stroke-width="0.7"/>
<line x1="292.5" y1="303.5" x2="292.5" y2="308.5" stroke="#747474" stroke-width="0.7"/>
<line x1="291.4" y1="282.5" x2="293.6" y2="282.5" stroke="#555" stroke-width="0.8"/>
<line x1="291.4" y1="308.5" x2="293.6" y2="308.5" stroke="#555" stroke-width="0.8"/>
<rect x="290.9" y="293.5" width="3.2" height="10.0" fill="#3a3cae" stroke="#1e2060" stroke-width="0.65"/>
<line x1="290.9" y1="298.5" x2="294.1" y2="298.5" stroke="#1e2060" stroke-width="0.6"/>
<line x1="305.25" y1="290.6" x2="305.25" y2="293.1" stroke="#747474" stroke-width="0.7"/>
<line x1="305.25" y1="304.75" x2="305.25" y2="306.9" stroke="#747474" stroke-width="0.7"/>
<line x1="304.15" y1="290.6" x2="306.35" y2="290.6" stroke="#555" stroke-width="0.8"/>
<line x1="304.15" y1="306.9" x2="306.35" y2="306.9" stroke="#555" stroke-width="0.8"/>
<rect x="303.65" y="293.1" width="3.2" height="11.649999999999977" fill="#bcbc30" stroke="#5e5c12" stroke-width="0.65"/>
<line x1="303.65" y1="299" x2="306.85" y2="299" stroke="#5e5c12" stroke-width="0.6"/>
<line x1="310.8" y1="290.6" x2="310.8" y2="295.6" stroke="#747474" stroke-width="0.7"/>
<line x1="310.8" y1="305.6" x2="310.8" y2="308.5" stroke="#747474" stroke-width="0.7"/>
<line x1="309.7" y1="290.6" x2="311.90000000000003" y2="290.6" stroke="#555" stroke-width="0.8"/>
<line x1="309.7" y1="308.5" x2="311.90000000000003" y2="308.5" stroke="#555" stroke-width="0.8"/>
<rect x="309.2" y="295.6" width="3.2" height="10.0" fill="#f2a6aa" stroke="#9a5a66" stroke-width="0.65"/>
<line x1="309.2" y1="300.5" x2="312.40000000000003" y2="300.5" stroke="#9a5a66" stroke-width="0.6"/>
<line x1="316.2" y1="298.75" x2="316.2" y2="300.6" stroke="#747474" stroke-width="0.7"/>
<line x1="316.2" y1="307.5" x2="316.2" y2="309.4" stroke="#747474" stroke-width="0.7"/>
<line x1="315.09999999999997" y1="298.75" x2="317.3" y2="298.75" stroke="#555" stroke-width="0.8"/>
<line x1="315.09999999999997" y1="309.4" x2="317.3" y2="309.4" stroke="#555" stroke-width="0.8"/>
<rect x="314.59999999999997" y="300.6" width="3.2" height="6.899999999999977" fill="#e86ee0" stroke="#8a3484" stroke-width="0.65"/>
<line x1="314.59999999999997" y1="304" x2="317.8" y2="304" stroke="#8a3484" stroke-width="0.6"/>
<line x1="321.9" y1="297.5" x2="321.9" y2="300.6" stroke="#747474" stroke-width="0.7"/>
<line x1="321.9" y1="306.9" x2="321.9" y2="308.75" stroke="#747474" stroke-width="0.7"/>
<line x1="320.79999999999995" y1="297.5" x2="323.0" y2="297.5" stroke="#555" stroke-width="0.8"/>
<line x1="320.79999999999995" y1="308.75" x2="323.0" y2="308.75" stroke="#555" stroke-width="0.8"/>
<rect x="320.29999999999995" y="300.6" width="3.2" height="6.2999999999999545" fill="#7880ec" stroke="#44489a" stroke-width="0.65"/>
<line x1="320.29999999999995" y1="303.5" x2="323.5" y2="303.5" stroke="#44489a" stroke-width="0.6"/>
<line x1="327.6" y1="295" x2="327.6" y2="300.6" stroke="#747474" stroke-width="0.7"/>
<line x1="327.6" y1="307.25" x2="327.6" y2="308.5" stroke="#747474" stroke-width="0.7"/>
<line x1="326.5" y1="295" x2="328.70000000000005" y2="295" stroke="#555" stroke-width="0.8"/>
<line x1="326.5" y1="308.5" x2="328.70000000000005" y2="308.5" stroke="#555" stroke-width="0.8"/>
<rect x="326.0" y="300.6" width="3.2" height="6.649999999999977" fill="#3a3cae" stroke="#1e2060" stroke-width="0.65"/>
<line x1="326.0" y1="304" x2="329.20000000000005" y2="304" stroke="#1e2060" stroke-width="0.6"/>
<circle cx="199.7" cy="268.5" r="0.55" fill="#5e5c12" fill-opacity="0.75"/>
<circle cx="220.8" cy="279.3" r="0.55" fill="#44489a" fill-opacity="0.75"/>
<circle cx="223.1" cy="278.4" r="0.55" fill="#44489a" fill-opacity="0.75"/>
<circle cx="221.9" cy="281" r="0.55" fill="#1e2060" fill-opacity="0.75"/>
<circle cx="281.1" cy="280" r="0.55" fill="#8a3484" fill-opacity="0.75"/>
<circle cx="316.5" cy="287.5" r="0.55" fill="#8a3484" fill-opacity="0.75"/>
<rect x="340.4" y="25.2" width="11.3" height="4.6" fill="#bcbc30" stroke="#5e5c12" stroke-width="1.0"/>
<text x="354" y="29.799999999999997" font-size="7.0" text-anchor="start" fill="#111" font-weight="bold" stroke="#111" stroke-width="0.22">BL</text>
<rect x="340.4" y="34.95" width="11.3" height="4.6" fill="#f2a6aa" stroke="#9a5a66" stroke-width="1.0"/>
<text x="354" y="39.550000000000004" font-size="7.0" text-anchor="start" fill="#111" font-weight="bold" stroke="#111" stroke-width="0.22">First-cycle</text>
<rect x="340.4" y="44.7" width="11.3" height="4.6" fill="#e86ee0" stroke="#8a3484" stroke-width="1.0"/>
<text x="354" y="49.300000000000004" font-size="7.0" text-anchor="start" fill="#111" font-weight="bold" stroke="#111" stroke-width="0.22">Second-cycle</text>
<rect x="340.4" y="54.45" width="11.3" height="4.6" fill="#7880ec" stroke="#44489a" stroke-width="1.0"/>
<text x="354" y="59.050000000000004" font-size="7.0" text-anchor="start" fill="#111" font-weight="bold" stroke="#111" stroke-width="0.22">Third-cycle</text>
<rect x="340.4" y="64.2" width="11.3" height="4.6" fill="#3a3cae" stroke="#1e2060" stroke-width="1.0"/>
<text x="354" y="68.8" font-size="7.0" text-anchor="start" fill="#111" font-weight="bold" stroke="#111" stroke-width="0.22">Fourth-cycle</text>
</svg></body></html>
